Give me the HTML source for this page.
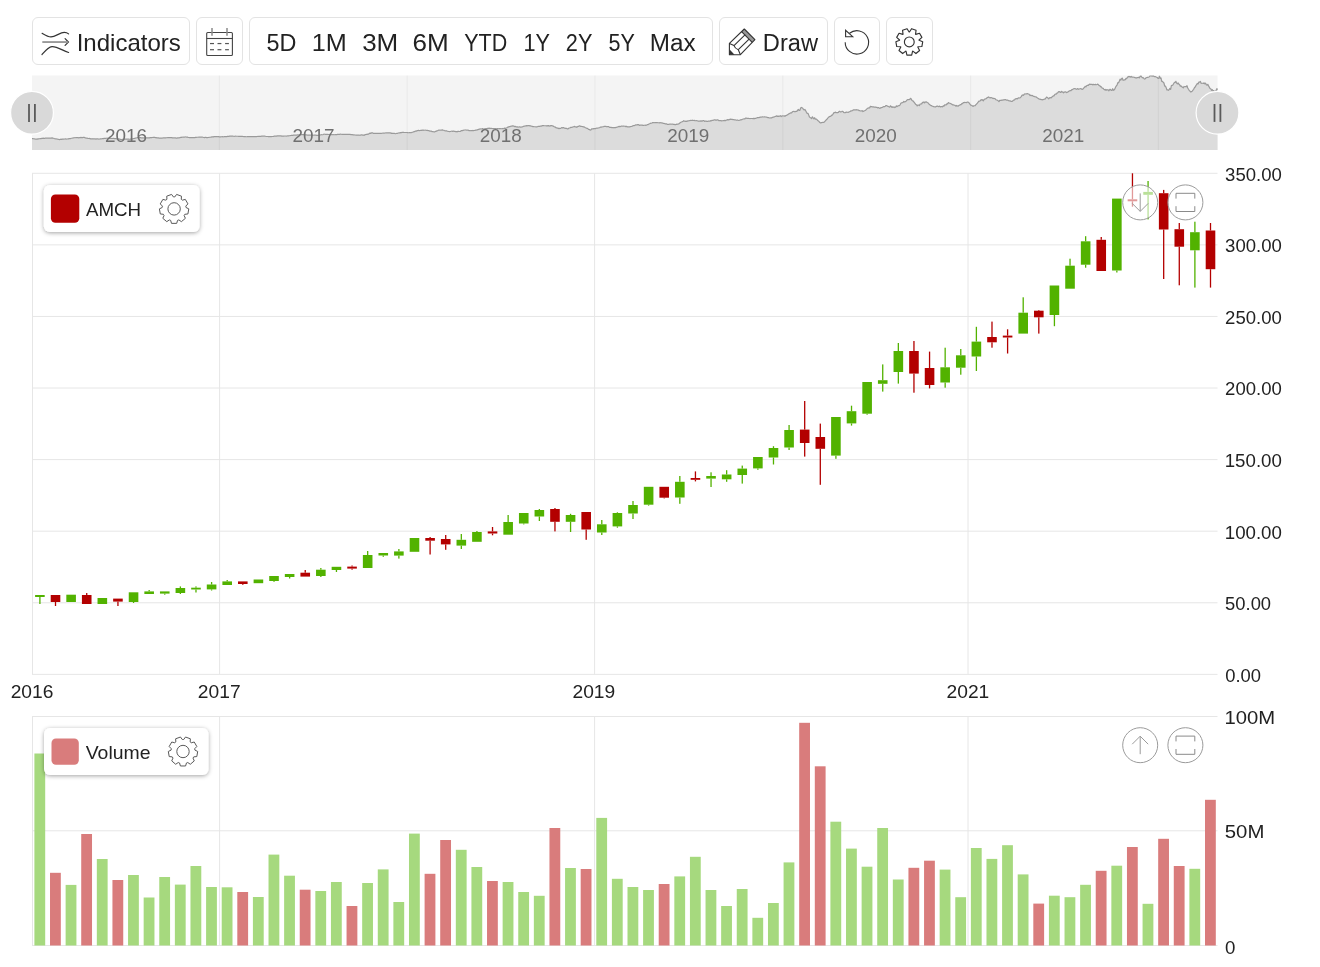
<!DOCTYPE html><html><head><meta charset="utf-8"><style>
html,body{margin:0;padding:0;background:#fff;}
body{width:1320px;height:967px;position:relative;overflow:hidden;font-family:"Liberation Sans", sans-serif;color:#222;}
.btn{position:absolute;top:17px;height:48px;border:1px solid #e3e3e3;border-radius:6px;background:#fff;box-sizing:border-box;}
.t{position:absolute;font-size:23px;line-height:1;white-space:nowrap;color:#222;}
svg{position:absolute;left:0;top:0;}
</style></head><body>
<div class="btn" style="left:32px;width:158px"></div>
<div class="btn" style="left:196px;width:47px"></div>
<div class="btn" style="left:249px;width:464px"></div>
<div class="btn" style="left:719px;width:109px"></div>
<div class="btn" style="left:834px;width:46px"></div>
<div class="btn" style="left:886px;width:47px"></div>
<svg width="1320" height="967" viewBox="0 0 1320 967" font-family='"Liberation Sans", sans-serif'>
<g style="will-change:transform"><text transform="translate(76.68 50.90) scale(1.0451 1.0000)" font-size="23" fill="#222">Indicators</text>
<text transform="translate(266.52 51.00) scale(1.0176 1.0000)" font-size="23" fill="#222">5D</text>
<text transform="translate(311.77 51.00) scale(1.0969 1.0000)" font-size="23" fill="#222">1M</text>
<text transform="translate(362.15 51.00) scale(1.1308 1.0000)" font-size="23" fill="#222">3M</text>
<text transform="translate(412.56 51.00) scale(1.1337 1.0000)" font-size="23" fill="#222">6M</text>
<text transform="translate(464.21 51.00) scale(0.9345 1.0000)" font-size="23" fill="#222">YTD</text>
<text transform="translate(523.58 51.00) scale(0.9419 1.0000)" font-size="23" fill="#222">1Y</text>
<text transform="translate(565.82 51.00) scale(0.9442 1.0000)" font-size="23" fill="#222">2Y</text>
<text transform="translate(608.52 51.00) scale(0.9370 1.0000)" font-size="23" fill="#222">5Y</text>
<text transform="translate(649.80 51.00) scale(1.0543 1.0000)" font-size="23" fill="#222">Max</text>
<text transform="translate(762.86 51.00) scale(1.0285 1.0000)" font-size="23" fill="#222">Draw</text></g>
<g fill="none" stroke="#333" stroke-width="1.2" stroke-linecap="round"><path d="M42.1 33.3 C45.5 35.3 48.3 37 51 36.9 C55.5 36.8 60 32.4 64.3 32.4 C66 32.4 67.5 33 68.6 33.9"/><path d="M42 54.5 C45 51 48.5 46.8 52 46.6 C57 46.3 62 50.3 68.6 52.5"/><path d="M65.1 38.6 L68.4 42.05 L65.1 45.4"/></g>
<line x1="42.3" y1="42.05" x2="67.8" y2="42.05" stroke="#999" stroke-width="1.9"/>
<g fill="none" stroke="#444" stroke-width="1.1"><rect x="206.7" y="32.5" width="25.7" height="23" rx="1"/><line x1="206.7" y1="38.5" x2="232.4" y2="38.5"/></g>
<g stroke="#8a8a8a" stroke-width="1.5"><line x1="212" y1="28.1" x2="212" y2="35.7"/><line x1="227" y1="28.1" x2="227" y2="35.7"/></g>
<g stroke="#555" stroke-width="1.2"><line x1="210" y1="43.55" x2="214" y2="43.55"/><line x1="217.5" y1="43.55" x2="221.4" y2="43.55"/><line x1="225.1" y1="43.55" x2="228.9" y2="43.55"/><line x1="210" y1="49.7" x2="214" y2="49.7"/><line x1="217.5" y1="49.7" x2="221.4" y2="49.7"/><line x1="225.1" y1="49.7" x2="228.9" y2="49.7"/></g>
<path d="M741.6 31.7 L744.3 29 L754.9 39.6 L752.2 42.3 Z" fill="#999"/>
<g fill="none" stroke="#333" stroke-width="1.1" stroke-linejoin="round"><path d="M729.4 54.7 L729.4 43.4 L744.3 29 L754.9 39.6 L740.4 54.7 Z"/><path d="M741.6 31.7 L752.2 42.3"/><path d="M729.4 43.4 L734 45.6 Q735 48.6 738.3 49.7 L740.4 54.7"/><path d="M734 45.6 L745.2 34.7 M738.3 49.7 L749.1 39.2"/></g>
<path d="M729.4 49.2 L729.4 54.7 L734.6 54.7 Z" fill="#333"/>
<g fill="none" stroke="#333" stroke-width="1.1"><path d="M845.2 42.2 A11.7 11.7 0 1 0 849.5 33.3"/><path d="M845.6 30.3 L845.6 36.7 L852.7 36.7 Z"/></g>
<g fill="none" stroke="#333" stroke-width="1.15" stroke-linejoin="round"><path d="M912.54 51.26 L911.69 55.09 L906.91 55.09 L906.06 51.26 L905.77 51.15 L902.65 53.54 L899.00 50.47 L900.81 46.98 L900.65 46.71 L896.73 46.54 L895.90 41.84 L899.52 40.33 L899.58 40.03 L896.69 37.37 L899.07 33.24 L902.82 34.42 L903.06 34.22 L902.55 30.33 L907.03 28.69 L909.14 32.00 L909.46 32.00 L911.57 28.69 L916.05 30.33 L915.54 34.22 L915.78 34.42 L919.53 33.24 L921.91 37.37 L919.02 40.03 L919.08 40.33 L922.70 41.84 L921.87 46.54 L917.95 46.71 L917.79 46.98 L919.60 50.47 L915.95 53.54 L912.83 51.15 Z"/><circle cx="909.30" cy="41.90" r="4.90"/></g>
<rect x="32.0" y="75.5" width="1185.5" height="74.5" fill="#f4f4f4"/>
<path d="M32.0 150.0 L32.00 138.57 L32.74 138.61 L33.49 138.77 L34.23 138.87 L34.97 139.02 L35.72 139.06 L36.46 139.05 L37.20 139.06 L37.95 138.90 L38.69 138.86 L39.43 138.74 L40.18 138.65 L40.92 138.70 L41.66 138.38 L42.41 138.30 L43.15 138.20 L43.89 138.30 L44.64 138.30 L45.38 138.22 L46.12 138.18 L46.86 138.11 L47.61 138.14 L48.35 138.07 L49.09 138.19 L49.84 138.08 L50.58 138.07 L51.32 138.17 L52.07 137.93 L52.81 138.15 L53.55 138.23 L54.30 138.56 L55.04 138.72 L55.78 138.83 L56.53 138.95 L57.27 139.03 L58.01 139.21 L58.76 139.43 L59.50 139.58 L60.24 139.45 L60.99 139.19 L61.73 139.31 L62.47 139.12 L63.22 139.03 L63.96 139.14 L64.70 139.02 L65.45 138.92 L66.19 139.13 L66.93 139.00 L67.68 138.97 L68.42 138.92 L69.16 138.70 L69.91 138.60 L70.65 138.56 L71.39 138.27 L72.13 138.15 L72.88 138.00 L73.62 137.83 L74.36 137.77 L75.11 137.68 L75.85 137.76 L76.59 137.62 L77.34 137.69 L78.08 137.66 L78.82 137.79 L79.57 137.71 L80.31 137.62 L81.05 137.39 L81.80 137.69 L82.54 137.59 L83.28 137.37 L84.03 137.34 L84.77 137.58 L85.51 137.98 L86.26 138.20 L87.00 138.05 L87.74 138.32 L88.49 138.51 L89.23 138.45 L89.97 138.58 L90.72 138.82 L91.46 138.83 L92.20 138.82 L92.95 138.72 L93.69 138.84 L94.43 138.89 L95.18 138.90 L95.92 139.04 L96.66 138.89 L97.40 138.93 L98.15 138.97 L98.89 139.12 L99.63 138.99 L100.38 138.83 L101.12 138.90 L101.86 138.72 L102.61 138.57 L103.35 138.62 L104.09 138.38 L104.84 138.35 L105.58 138.31 L106.32 138.23 L107.07 138.22 L107.81 138.27 L108.55 138.23 L109.30 138.34 L110.04 138.44 L110.78 138.36 L111.53 138.45 L112.27 138.52 L113.01 138.42 L113.76 138.40 L114.50 138.54 L115.24 138.69 L115.99 138.71 L116.73 138.82 L117.47 138.94 L118.22 138.93 L118.96 139.20 L119.70 139.15 L120.45 139.43 L121.19 139.49 L121.93 139.44 L122.68 139.33 L123.42 139.27 L124.16 139.23 L124.90 139.17 L125.65 139.15 L126.39 139.12 L127.13 139.21 L127.88 139.18 L128.62 139.17 L129.36 139.24 L130.11 139.18 L130.85 139.09 L131.59 138.78 L132.34 138.78 L133.08 138.69 L133.82 138.52 L134.57 138.31 L135.31 138.06 L136.05 138.01 L136.80 137.77 L137.54 137.51 L138.28 137.94 L139.03 137.80 L139.77 137.67 L140.51 137.65 L141.26 137.95 L142.00 137.97 L142.74 137.94 L143.49 137.95 L144.23 137.98 L144.97 137.87 L145.72 137.95 L146.46 137.95 L147.20 137.88 L147.95 137.83 L148.69 137.76 L149.43 137.81 L150.17 137.67 L150.92 137.56 L151.66 137.59 L152.40 137.49 L153.15 137.42 L153.89 137.45 L154.63 137.46 L155.38 137.60 L156.12 137.58 L156.86 137.94 L157.61 137.93 L158.35 137.94 L159.09 138.07 L159.84 137.98 L160.58 138.07 L161.32 138.03 L162.07 138.07 L162.81 137.97 L163.55 137.90 L164.30 137.89 L165.04 137.84 L165.78 137.78 L166.53 137.75 L167.27 137.72 L168.01 137.62 L168.76 137.60 L169.50 137.65 L170.24 137.56 L170.99 137.68 L171.73 137.62 L172.47 137.91 L173.22 137.90 L173.96 137.88 L174.70 137.93 L175.44 137.92 L176.19 138.09 L176.93 138.11 L177.67 137.89 L178.42 137.89 L179.16 137.79 L179.90 137.72 L180.65 137.42 L181.39 137.36 L182.13 137.20 L182.88 137.27 L183.62 137.10 L184.36 137.10 L185.11 137.00 L185.85 136.97 L186.59 137.18 L187.34 137.04 L188.08 137.35 L188.82 137.47 L189.57 137.61 L190.31 137.47 L191.05 137.60 L191.80 137.68 L192.54 137.67 L193.28 137.63 L194.03 137.50 L194.77 137.58 L195.51 137.38 L196.26 137.30 L197.00 137.23 L197.74 137.25 L198.49 137.22 L199.23 137.05 L199.97 137.05 L200.72 137.08 L201.46 137.03 L202.20 137.15 L202.94 137.28 L203.69 137.47 L204.43 137.60 L205.17 137.41 L205.92 137.47 L206.66 137.56 L207.40 137.53 L208.15 137.48 L208.89 137.46 L209.63 137.25 L210.38 137.24 L211.12 137.04 L211.86 136.89 L212.61 136.77 L213.35 136.83 L214.09 136.60 L214.84 136.70 L215.58 136.56 L216.32 136.68 L217.07 136.48 L217.81 136.71 L218.55 136.66 L219.30 136.79 L220.04 136.78 L220.78 136.81 L221.53 136.77 L222.27 136.70 L223.01 136.78 L223.76 136.76 L224.50 136.69 L225.24 136.67 L225.99 136.65 L226.73 136.55 L227.47 136.40 L228.21 136.45 L228.96 136.33 L229.70 136.19 L230.44 136.13 L231.19 136.11 L231.93 136.10 L232.67 136.16 L233.42 136.25 L234.16 136.29 L234.90 136.26 L235.65 136.21 L236.39 136.26 L237.13 136.27 L237.88 136.27 L238.62 136.30 L239.36 136.25 L240.11 136.32 L240.85 136.32 L241.59 136.46 L242.34 136.43 L243.08 136.51 L243.82 136.60 L244.57 136.57 L245.31 136.65 L246.05 136.76 L246.80 136.76 L247.54 136.71 L248.28 136.72 L249.03 136.66 L249.77 136.65 L250.51 136.52 L251.26 136.55 L252.00 136.53 L252.74 136.56 L253.48 136.58 L254.23 136.68 L254.97 136.59 L255.71 136.55 L256.46 136.56 L257.20 136.52 L257.94 136.39 L258.69 136.47 L259.43 136.34 L260.17 136.23 L260.92 136.30 L261.66 136.19 L262.40 136.12 L263.15 136.20 L263.89 136.19 L264.63 136.19 L265.38 136.27 L266.12 136.49 L266.86 136.49 L267.61 136.49 L268.35 136.56 L269.09 136.59 L269.84 136.66 L270.58 136.65 L271.32 136.53 L272.07 136.50 L272.81 136.48 L273.55 136.40 L274.30 136.13 L275.04 136.14 L275.78 136.09 L276.53 136.19 L277.27 135.94 L278.01 135.89 L278.76 135.84 L279.50 135.92 L280.24 135.95 L280.98 135.89 L281.73 136.14 L282.47 136.01 L283.21 136.04 L283.96 136.08 L284.70 136.00 L285.44 135.98 L286.19 136.11 L286.93 136.02 L287.67 135.90 L288.42 135.82 L289.16 135.76 L289.90 135.69 L290.65 135.48 L291.39 135.44 L292.13 135.45 L292.88 135.37 L293.62 135.17 L294.36 135.18 L295.11 135.12 L295.85 135.14 L296.59 135.19 L297.34 134.91 L298.08 135.00 L298.82 134.85 L299.57 134.75 L300.31 134.65 L301.05 134.67 L301.80 134.57 L302.54 134.56 L303.28 134.64 L304.03 134.69 L304.77 134.78 L305.51 134.88 L306.25 134.88 L307.00 135.00 L307.74 135.12 L308.48 135.17 L309.23 135.18 L309.97 135.17 L310.71 135.16 L311.46 135.19 L312.20 135.19 L312.94 135.13 L313.69 135.26 L314.43 135.15 L315.17 135.12 L315.92 135.20 L316.66 135.28 L317.40 135.26 L318.15 135.30 L318.89 135.27 L319.63 134.99 L320.38 134.96 L321.12 134.70 L321.86 134.74 L322.61 134.75 L323.35 134.50 L324.09 134.17 L324.84 134.26 L325.58 134.38 L326.32 134.38 L327.07 134.32 L327.81 134.36 L328.55 134.48 L329.30 134.47 L330.04 134.55 L330.78 134.63 L331.52 134.65 L332.27 134.65 L333.01 134.73 L333.75 134.70 L334.50 134.75 L335.24 134.65 L335.98 134.56 L336.73 134.55 L337.47 134.43 L338.21 134.40 L338.96 134.34 L339.70 134.34 L340.44 134.17 L341.19 134.25 L341.93 134.34 L342.67 134.34 L343.42 134.24 L344.16 134.37 L344.90 134.32 L345.65 134.32 L346.39 134.36 L347.13 134.41 L347.88 134.36 L348.62 134.36 L349.36 134.38 L350.11 134.47 L350.85 134.57 L351.59 134.61 L352.34 134.69 L353.08 134.78 L353.82 134.86 L354.57 134.94 L355.31 134.98 L356.05 135.10 L356.80 135.09 L357.54 135.06 L358.28 135.12 L359.02 135.08 L359.77 135.28 L360.51 135.09 L361.25 134.92 L362.00 134.93 L362.74 135.05 L363.48 135.10 L364.23 135.30 L364.97 134.63 L365.71 134.61 L366.46 134.29 L367.20 134.36 L367.94 134.02 L368.69 134.05 L369.43 133.40 L370.17 133.14 L370.92 133.33 L371.66 132.87 L372.40 132.83 L373.15 133.28 L373.89 133.35 L374.63 133.30 L375.38 133.30 L376.12 133.35 L376.86 133.31 L377.61 133.32 L378.35 133.32 L379.09 133.34 L379.84 133.33 L380.58 133.30 L381.32 133.34 L382.07 133.25 L382.81 133.21 L383.55 133.16 L384.29 133.07 L385.04 133.01 L385.78 132.94 L386.52 132.95 L387.27 132.90 L388.01 132.85 L388.75 132.86 L389.50 132.86 L390.24 132.85 L390.98 133.31 L391.73 133.22 L392.47 133.30 L393.21 133.38 L393.96 133.47 L394.70 133.47 L395.44 133.74 L396.19 133.51 L396.93 133.29 L397.67 133.31 L398.42 133.03 L399.16 132.91 L399.90 132.92 L400.65 132.70 L401.39 132.58 L402.13 132.39 L402.88 132.29 L403.62 132.39 L404.36 132.50 L405.11 132.48 L405.85 132.51 L406.59 132.51 L407.34 132.57 L408.08 132.69 L408.82 132.77 L409.56 132.64 L410.31 132.69 L411.05 132.73 L411.79 132.45 L412.54 132.27 L413.28 131.96 L414.02 131.68 L414.77 131.57 L415.51 131.00 L416.25 131.11 L417.00 130.70 L417.74 130.59 L418.48 130.29 L419.23 130.74 L419.97 130.53 L420.71 130.40 L421.46 130.34 L422.20 130.04 L422.94 130.34 L423.69 130.17 L424.43 130.23 L425.17 130.18 L425.92 130.23 L426.66 130.32 L427.40 130.33 L428.15 130.77 L428.89 130.59 L429.63 131.13 L430.38 131.11 L431.12 130.99 L431.86 131.55 L432.61 131.70 L433.35 131.70 L434.09 131.95 L434.84 131.84 L435.58 131.42 L436.32 131.12 L437.06 130.85 L437.81 130.56 L438.55 130.15 L439.29 130.09 L440.04 130.26 L440.78 130.16 L441.52 130.19 L442.27 129.87 L443.01 130.26 L443.75 130.25 L444.50 130.58 L445.24 130.79 L445.98 130.77 L446.73 130.86 L447.47 131.22 L448.21 131.48 L448.96 131.45 L449.70 131.68 L450.44 131.53 L451.19 131.26 L451.93 131.21 L452.67 131.34 L453.42 131.03 L454.16 131.39 L454.90 131.33 L455.65 131.57 L456.39 131.53 L457.13 131.82 L457.88 131.37 L458.62 131.31 L459.36 131.47 L460.11 131.32 L460.85 131.15 L461.59 130.57 L462.33 130.61 L463.08 130.36 L463.82 130.21 L464.56 129.99 L465.31 130.00 L466.05 129.95 L466.79 130.25 L467.54 130.15 L468.28 130.20 L469.02 130.60 L469.77 130.66 L470.51 130.72 L471.25 130.61 L472.00 130.67 L472.74 130.46 L473.48 130.53 L474.23 130.50 L474.97 130.36 L475.71 130.21 L476.46 130.05 L477.20 129.82 L477.94 129.58 L478.69 129.38 L479.43 129.20 L480.17 128.87 L480.92 129.00 L481.66 128.91 L482.40 128.63 L483.15 129.08 L483.89 128.94 L484.63 128.77 L485.38 128.68 L486.12 128.56 L486.86 128.52 L487.60 128.38 L488.35 128.31 L489.09 128.16 L489.83 128.39 L490.58 128.38 L491.32 128.37 L492.06 128.52 L492.81 128.59 L493.55 128.53 L494.29 128.69 L495.04 128.66 L495.78 128.72 L496.52 128.79 L497.27 128.71 L498.01 128.70 L498.75 128.74 L499.50 128.57 L500.24 128.61 L500.98 128.76 L501.73 128.66 L502.47 128.47 L503.21 128.74 L503.96 128.44 L504.70 128.19 L505.44 128.41 L506.19 127.97 L506.93 127.72 L507.67 127.11 L508.42 127.03 L509.16 126.62 L509.90 126.60 L510.65 126.23 L511.39 125.98 L512.13 126.15 L512.88 125.71 L513.62 125.96 L514.36 126.60 L515.10 126.29 L515.85 126.83 L516.59 126.81 L517.33 126.86 L518.08 127.09 L518.82 127.00 L519.56 126.86 L520.31 127.12 L521.05 127.07 L521.79 126.95 L522.54 126.79 L523.28 126.47 L524.02 126.17 L524.77 126.15 L525.51 126.02 L526.25 125.66 L527.00 125.80 L527.74 125.71 L528.48 125.61 L529.23 125.63 L529.97 125.82 L530.71 125.87 L531.46 126.28 L532.20 126.38 L532.94 126.65 L533.69 126.62 L534.43 126.75 L535.17 126.73 L535.92 126.89 L536.66 126.82 L537.40 126.72 L538.15 126.43 L538.89 126.26 L539.63 126.32 L540.37 126.05 L541.12 126.10 L541.86 125.88 L542.60 125.67 L543.35 125.50 L544.09 125.75 L544.83 125.76 L545.58 125.76 L546.32 125.97 L547.06 125.67 L547.81 125.81 L548.55 125.57 L549.29 125.89 L550.04 126.06 L550.78 125.62 L551.52 125.56 L552.27 125.95 L553.01 125.96 L553.75 126.53 L554.50 126.92 L555.24 127.00 L555.98 127.76 L556.73 127.89 L557.47 128.06 L558.21 128.19 L558.96 128.61 L559.70 128.34 L560.44 128.39 L561.19 128.02 L561.93 127.56 L562.67 127.87 L563.42 127.51 L564.16 128.17 L564.90 128.21 L565.64 128.34 L566.39 128.35 L567.13 128.89 L567.87 128.93 L568.62 128.26 L569.36 128.01 L570.10 127.82 L570.85 127.26 L571.59 127.45 L572.33 127.23 L573.08 126.89 L573.82 126.77 L574.56 126.40 L575.31 126.91 L576.05 126.79 L576.79 127.34 L577.54 126.64 L578.28 126.44 L579.02 126.11 L579.77 125.80 L580.51 126.36 L581.25 126.43 L582.00 126.50 L582.74 126.59 L583.48 126.81 L584.23 126.88 L584.97 127.42 L585.71 127.81 L586.46 128.26 L587.20 128.37 L587.94 128.87 L588.69 129.43 L589.43 129.61 L590.17 130.03 L590.92 129.95 L591.66 128.94 L592.40 128.86 L593.14 128.88 L593.89 128.61 L594.63 128.59 L595.37 128.74 L596.12 128.17 L596.86 128.23 L597.60 128.03 L598.35 128.01 L599.09 127.77 L599.83 127.60 L600.58 127.07 L601.32 127.06 L602.06 126.97 L602.81 126.74 L603.55 126.64 L604.29 126.42 L605.04 126.43 L605.78 126.31 L606.52 126.74 L607.27 126.64 L608.01 126.63 L608.75 126.67 L609.50 127.37 L610.24 127.42 L610.98 127.26 L611.73 127.61 L612.47 127.54 L613.21 127.49 L613.96 127.81 L614.70 127.54 L615.44 127.64 L616.19 127.33 L616.93 127.20 L617.67 126.99 L618.41 126.67 L619.16 126.32 L619.90 126.58 L620.64 126.34 L621.39 126.03 L622.13 126.27 L622.87 126.07 L623.62 126.09 L624.36 126.23 L625.10 126.20 L625.85 126.64 L626.59 126.35 L627.33 126.83 L628.08 126.78 L628.82 126.85 L629.56 126.91 L630.31 126.58 L631.05 126.49 L631.79 126.35 L632.54 125.97 L633.28 125.58 L634.02 125.62 L634.77 125.34 L635.51 124.97 L636.25 124.91 L637.00 125.03 L637.74 124.48 L638.48 124.61 L639.23 125.39 L639.97 125.15 L640.71 125.10 L641.46 125.03 L642.20 125.11 L642.94 125.30 L643.68 125.46 L644.43 125.28 L645.17 125.15 L645.91 125.32 L646.66 125.02 L647.40 124.55 L648.14 124.60 L648.89 124.02 L649.63 123.76 L650.37 123.31 L651.12 123.22 L651.86 122.97 L652.60 122.67 L653.35 122.62 L654.09 122.74 L654.83 122.63 L655.58 122.51 L656.32 122.53 L657.06 122.48 L657.81 122.76 L658.55 122.74 L659.29 122.97 L660.04 122.51 L660.78 122.78 L661.52 122.82 L662.27 122.93 L663.01 123.31 L663.75 123.29 L664.50 123.51 L665.24 123.88 L665.98 123.82 L666.73 123.90 L667.47 124.40 L668.21 124.24 L668.96 124.28 L669.70 124.22 L670.44 124.20 L671.18 124.09 L671.93 124.23 L672.67 124.03 L673.41 124.44 L674.16 124.23 L674.90 124.70 L675.64 124.60 L676.39 124.21 L677.13 124.29 L677.87 124.06 L678.62 123.93 L679.36 123.45 L680.10 122.81 L680.85 122.23 L681.59 121.98 L682.33 121.57 L683.08 121.32 L683.82 120.70 L684.56 121.24 L685.31 121.37 L686.05 121.09 L686.79 121.39 L687.54 120.94 L688.28 120.86 L689.02 120.72 L689.77 120.53 L690.51 120.44 L691.25 120.48 L692.00 120.22 L692.74 120.28 L693.48 120.48 L694.23 120.42 L694.97 120.61 L695.71 120.72 L696.45 120.71 L697.20 120.76 L697.94 121.04 L698.68 121.04 L699.43 121.22 L700.17 120.88 L700.91 121.10 L701.66 120.91 L702.40 121.04 L703.14 120.64 L703.89 120.56 L704.63 121.32 L705.37 121.15 L706.12 121.13 L706.86 121.32 L707.60 121.51 L708.35 121.04 L709.09 121.15 L709.83 121.21 L710.58 120.70 L711.32 120.88 L712.06 120.31 L712.81 120.38 L713.55 120.10 L714.29 119.78 L715.04 119.82 L715.78 120.08 L716.52 120.17 L717.27 119.83 L718.01 119.95 L718.75 120.70 L719.50 120.54 L720.24 120.61 L720.98 120.61 L721.72 120.95 L722.47 120.77 L723.21 120.66 L723.95 120.58 L724.70 120.40 L725.44 120.61 L726.18 120.17 L726.93 119.98 L727.67 119.60 L728.41 119.82 L729.16 119.59 L729.90 119.40 L730.64 119.20 L731.39 119.41 L732.13 119.30 L732.87 119.58 L733.62 119.53 L734.36 119.78 L735.10 119.78 L735.85 120.04 L736.59 120.30 L737.33 119.97 L738.08 120.22 L738.82 120.48 L739.56 120.22 L740.31 119.86 L741.05 119.96 L741.79 119.58 L742.54 119.24 L743.28 119.02 L744.02 118.93 L744.77 119.00 L745.51 118.21 L746.25 118.20 L747.00 118.29 L747.74 118.38 L748.48 118.33 L749.22 118.49 L749.97 118.55 L750.71 118.52 L751.45 118.51 L752.20 118.52 L752.94 118.60 L753.68 118.39 L754.43 118.63 L755.17 118.26 L755.91 118.29 L756.66 117.96 L757.40 117.67 L758.14 117.64 L758.89 117.59 L759.63 117.33 L760.37 117.15 L761.12 117.20 L761.86 116.95 L762.60 116.89 L763.35 117.00 L764.09 116.96 L764.83 116.92 L765.58 116.98 L766.32 117.10 L767.06 117.28 L767.81 117.57 L768.55 117.66 L769.29 117.83 L770.04 117.97 L770.78 117.85 L771.52 117.90 L772.27 117.45 L773.01 117.19 L773.75 117.14 L774.49 116.77 L775.24 116.47 L775.98 116.38 L776.72 115.79 L777.47 116.44 L778.21 116.10 L778.95 116.43 L779.70 116.02 L780.44 115.73 L781.18 116.63 L781.93 115.97 L782.67 115.83 L783.41 115.97 L784.16 115.73 L784.90 116.33 L785.64 115.56 L786.39 115.35 L787.13 114.98 L787.87 114.68 L788.62 113.95 L789.36 113.77 L790.10 113.16 L790.85 112.88 L791.59 112.84 L792.33 111.88 L793.08 111.50 L793.82 111.37 L794.56 111.75 L795.31 111.56 L796.05 111.41 L796.79 111.42 L797.54 110.35 L798.28 109.46 L799.02 110.45 L799.76 110.46 L800.51 108.43 L801.25 107.43 L801.99 107.83 L802.74 108.29 L803.48 109.43 L804.22 109.88 L804.97 109.46 L805.71 110.79 L806.45 112.36 L807.20 113.50 L807.94 113.26 L808.68 114.89 L809.43 116.93 L810.17 117.63 L810.91 117.83 L811.66 118.64 L812.40 116.84 L813.14 117.93 L813.89 118.80 L814.63 117.75 L815.37 119.12 L816.12 118.97 L816.86 119.40 L817.60 120.48 L818.35 120.85 L819.09 121.64 L819.83 122.51 L820.58 122.93 L821.32 122.61 L822.06 122.54 L822.81 122.33 L823.55 122.48 L824.29 122.04 L825.04 121.16 L825.78 120.54 L826.52 119.36 L827.26 119.03 L828.01 117.81 L828.75 117.10 L829.49 116.63 L830.24 116.43 L830.98 116.00 L831.72 115.12 L832.47 115.03 L833.21 113.80 L833.95 112.70 L834.70 112.65 L835.44 112.10 L836.18 112.70 L836.93 112.49 L837.67 112.54 L838.41 112.41 L839.16 111.37 L839.90 111.33 L840.64 111.99 L841.39 111.69 L842.13 111.36 L842.87 111.40 L843.62 112.38 L844.36 112.77 L845.10 112.59 L845.85 112.33 L846.59 112.08 L847.33 112.26 L848.08 112.38 L848.82 112.01 L849.56 111.69 L850.31 111.41 L851.05 110.75 L851.79 110.91 L852.53 110.55 L853.28 109.93 L854.02 109.87 L854.76 109.80 L855.51 109.83 L856.25 109.78 L856.99 109.70 L857.74 110.02 L858.48 110.05 L859.22 110.77 L859.97 110.70 L860.71 110.98 L861.45 110.84 L862.20 110.64 L862.94 111.52 L863.68 111.16 L864.43 110.75 L865.17 110.51 L865.91 109.94 L866.66 109.13 L867.40 108.27 L868.14 108.20 L868.89 107.81 L869.63 107.89 L870.37 106.35 L871.12 106.56 L871.86 106.64 L872.60 107.01 L873.35 106.73 L874.09 107.09 L874.83 107.06 L875.58 107.11 L876.32 107.38 L877.06 107.47 L877.80 107.92 L878.55 107.50 L879.29 108.18 L880.03 108.35 L880.78 107.69 L881.52 107.58 L882.26 107.40 L883.01 106.99 L883.75 106.58 L884.49 106.70 L885.24 106.19 L885.98 105.55 L886.72 105.63 L887.47 106.16 L888.21 106.41 L888.95 106.79 L889.70 107.10 L890.44 105.86 L891.18 106.39 L891.93 107.47 L892.67 106.78 L893.41 107.32 L894.16 106.96 L894.90 107.64 L895.64 107.08 L896.39 105.82 L897.13 106.54 L897.87 106.08 L898.62 105.69 L899.36 105.57 L900.10 104.84 L900.85 103.21 L901.59 102.79 L902.33 102.64 L903.08 102.38 L903.82 101.47 L904.56 101.88 L905.30 101.61 L906.05 101.20 L906.79 100.31 L907.53 99.63 L908.28 99.66 L909.02 99.68 L909.76 99.26 L910.51 98.29 L911.25 98.92 L911.99 100.44 L912.74 100.77 L913.48 101.54 L914.22 102.34 L914.97 103.30 L915.71 104.39 L916.45 104.70 L917.20 105.88 L917.94 105.00 L918.68 105.03 L919.43 105.56 L920.17 104.02 L920.91 103.96 L921.66 103.88 L922.40 102.40 L923.14 102.54 L923.89 101.91 L924.63 102.83 L925.37 102.03 L926.12 101.86 L926.86 102.24 L927.60 102.76 L928.35 102.96 L929.09 104.34 L929.83 104.77 L930.57 105.33 L931.32 105.55 L932.06 106.08 L932.80 106.26 L933.55 106.67 L934.29 106.73 L935.03 106.95 L935.78 106.84 L936.52 106.35 L937.26 105.98 L938.01 106.34 L938.75 106.61 L939.49 106.03 L940.24 106.94 L940.98 106.60 L941.72 106.52 L942.47 106.77 L943.21 105.91 L943.95 106.18 L944.70 104.93 L945.44 104.78 L946.18 104.99 L946.93 103.70 L947.67 103.83 L948.41 102.57 L949.16 103.05 L949.90 103.24 L950.64 103.49 L951.39 104.13 L952.13 104.32 L952.87 105.02 L953.62 104.90 L954.36 105.23 L955.10 105.35 L955.84 106.23 L956.59 105.47 L957.33 105.91 L958.07 106.20 L958.82 105.49 L959.56 105.14 L960.30 104.66 L961.05 104.73 L961.79 103.66 L962.53 103.63 L963.28 102.58 L964.02 102.75 L964.76 102.23 L965.51 102.48 L966.25 102.66 L966.99 102.14 L967.74 102.19 L968.48 102.24 L969.22 103.05 L969.97 104.17 L970.71 105.15 L971.45 105.27 L972.20 105.81 L972.94 106.40 L973.68 105.84 L974.43 105.73 L975.17 105.63 L975.91 104.66 L976.66 104.00 L977.40 103.06 L978.14 102.05 L978.89 101.17 L979.63 101.06 L980.37 100.80 L981.12 99.60 L981.86 100.14 L982.60 99.73 L983.34 100.86 L984.09 99.56 L984.83 98.98 L985.57 98.97 L986.32 98.42 L987.06 97.79 L987.80 97.38 L988.55 96.92 L989.29 97.55 L990.03 97.87 L990.78 97.59 L991.52 97.68 L992.26 98.05 L993.01 98.59 L993.75 98.28 L994.49 98.46 L995.24 98.89 L995.98 99.79 L996.72 99.96 L997.47 100.20 L998.21 100.89 L998.95 101.56 L999.70 100.37 L1000.44 100.40 L1001.18 100.35 L1001.93 100.00 L1002.67 100.17 L1003.41 99.91 L1004.16 99.81 L1004.90 99.70 L1005.64 99.65 L1006.39 100.26 L1007.13 99.93 L1007.87 100.24 L1008.61 100.59 L1009.36 100.83 L1010.10 100.75 L1010.84 101.38 L1011.59 101.42 L1012.33 101.29 L1013.07 100.60 L1013.82 100.06 L1014.56 99.90 L1015.30 98.86 L1016.05 98.85 L1016.79 98.50 L1017.53 98.80 L1018.28 97.75 L1019.02 98.01 L1019.76 98.01 L1020.51 97.32 L1021.25 96.63 L1021.99 95.35 L1022.74 94.91 L1023.48 95.36 L1024.22 94.23 L1024.97 93.88 L1025.71 94.01 L1026.45 93.96 L1027.20 93.54 L1027.94 93.90 L1028.68 93.98 L1029.43 94.61 L1030.17 95.61 L1030.91 95.10 L1031.66 95.74 L1032.40 95.46 L1033.14 96.18 L1033.88 96.32 L1034.63 96.61 L1035.37 96.79 L1036.11 96.84 L1036.86 97.48 L1037.60 98.07 L1038.34 98.51 L1039.09 99.13 L1039.83 99.11 L1040.57 99.32 L1041.32 99.61 L1042.06 99.49 L1042.80 99.83 L1043.55 99.46 L1044.29 99.18 L1045.03 99.04 L1045.78 98.10 L1046.52 97.02 L1047.26 97.55 L1048.01 98.08 L1048.75 98.82 L1049.49 97.83 L1050.24 97.53 L1050.98 97.97 L1051.72 97.30 L1052.47 96.43 L1053.21 95.90 L1053.95 95.83 L1054.70 94.61 L1055.44 94.05 L1056.18 94.26 L1056.93 93.17 L1057.67 92.89 L1058.41 91.88 L1059.16 91.55 L1059.90 92.10 L1060.64 92.50 L1061.38 91.28 L1062.13 92.20 L1062.87 91.94 L1063.61 92.76 L1064.36 92.14 L1065.10 91.90 L1065.84 91.96 L1066.59 92.62 L1067.33 92.22 L1068.07 91.93 L1068.82 91.21 L1069.56 90.80 L1070.30 90.66 L1071.05 90.66 L1071.79 89.68 L1072.53 89.61 L1073.28 88.91 L1074.02 88.75 L1074.76 88.54 L1075.51 88.77 L1076.25 89.28 L1076.99 89.12 L1077.74 88.61 L1078.48 89.27 L1079.22 88.97 L1079.97 88.74 L1080.71 88.70 L1081.45 88.91 L1082.20 89.43 L1082.94 89.04 L1083.68 88.08 L1084.43 87.52 L1085.17 86.37 L1085.91 86.85 L1086.65 85.74 L1087.40 85.33 L1088.14 85.52 L1088.88 84.76 L1089.63 84.09 L1090.37 84.36 L1091.11 84.40 L1091.86 84.35 L1092.60 84.85 L1093.34 84.37 L1094.09 84.72 L1094.83 84.70 L1095.57 84.36 L1096.32 84.71 L1097.06 84.44 L1097.80 84.03 L1098.55 84.93 L1099.29 85.57 L1100.03 85.87 L1100.78 86.80 L1101.52 86.92 L1102.26 88.25 L1103.01 88.23 L1103.75 89.16 L1104.49 89.83 L1105.24 89.47 L1105.98 90.34 L1106.72 89.56 L1107.47 89.95 L1108.21 89.75 L1108.95 90.84 L1109.70 89.42 L1110.44 89.30 L1111.18 90.42 L1111.92 90.47 L1112.67 88.74 L1113.41 90.34 L1114.15 89.94 L1114.90 88.90 L1115.64 86.98 L1116.38 85.88 L1117.13 84.80 L1117.87 82.57 L1118.61 82.79 L1119.36 81.06 L1120.10 79.20 L1120.84 80.01 L1121.59 78.62 L1122.33 78.09 L1123.07 80.28 L1123.82 80.12 L1124.56 79.81 L1125.30 79.62 L1126.05 78.37 L1126.79 78.55 L1127.53 77.28 L1128.28 76.45 L1129.02 76.86 L1129.76 76.42 L1130.51 77.10 L1131.25 76.45 L1131.99 77.10 L1132.74 77.14 L1133.48 77.22 L1134.22 77.26 L1134.97 77.72 L1135.71 77.79 L1136.45 78.04 L1137.20 77.58 L1137.94 77.73 L1138.68 77.26 L1139.42 77.82 L1140.17 76.33 L1140.91 76.00 L1141.65 76.91 L1142.40 77.78 L1143.14 77.63 L1143.88 78.46 L1144.63 79.10 L1145.37 78.64 L1146.11 77.75 L1146.86 77.51 L1147.60 77.32 L1148.34 77.26 L1149.09 76.99 L1149.83 76.00 L1150.57 76.00 L1151.32 76.00 L1152.06 76.17 L1152.80 76.16 L1153.55 76.00 L1154.29 76.60 L1155.03 76.48 L1155.78 76.83 L1156.52 77.26 L1157.26 77.47 L1158.01 78.49 L1158.75 78.34 L1159.49 76.20 L1160.24 78.33 L1160.98 77.94 L1161.72 81.31 L1162.47 81.42 L1163.21 82.28 L1163.95 83.01 L1164.69 86.16 L1165.44 86.11 L1166.18 87.65 L1166.92 89.95 L1167.67 89.82 L1168.41 90.34 L1169.15 89.64 L1169.90 88.39 L1170.64 89.28 L1171.38 85.60 L1172.13 85.45 L1172.87 85.04 L1173.61 83.77 L1174.36 82.42 L1175.10 82.49 L1175.84 81.35 L1176.59 83.14 L1177.33 83.87 L1178.07 82.86 L1178.82 84.17 L1179.56 84.49 L1180.30 86.16 L1181.05 85.86 L1181.79 86.81 L1182.53 87.23 L1183.28 87.88 L1184.02 86.43 L1184.76 86.74 L1185.51 86.60 L1186.25 86.79 L1186.99 85.69 L1187.74 87.97 L1188.48 89.28 L1189.22 90.34 L1189.96 91.16 L1190.71 91.99 L1191.45 91.66 L1192.19 91.23 L1192.94 90.15 L1193.68 89.36 L1194.42 87.72 L1195.17 86.99 L1195.91 85.60 L1196.65 84.49 L1197.40 83.40 L1198.14 83.90 L1198.88 82.10 L1199.63 82.17 L1200.37 81.41 L1201.11 83.32 L1201.86 83.27 L1202.60 83.23 L1203.34 83.43 L1204.09 82.82 L1204.83 83.86 L1205.57 83.20 L1206.32 84.84 L1207.06 85.23 L1207.80 84.29 L1208.55 85.94 L1209.29 87.09 L1210.03 88.45 L1210.78 88.78 L1211.52 90.34 L1212.26 89.59 L1213.01 91.01 L1213.75 90.65 L1214.49 91.43 L1215.24 91.99 L1215.98 90.91 L1216.72 88.80 L1217.46 89.10 L1217.50 88.70 L1217.5 150.0 Z" fill="#dcdcdc"/>
<line x1="219.4" y1="75.5" x2="219.4" y2="150.0" stroke="rgba(0,0,0,0.04)" stroke-width="1.2"/>
<line x1="407.2" y1="75.5" x2="407.2" y2="150.0" stroke="rgba(0,0,0,0.04)" stroke-width="1.2"/>
<line x1="595.0" y1="75.5" x2="595.0" y2="150.0" stroke="rgba(0,0,0,0.04)" stroke-width="1.2"/>
<line x1="782.8" y1="75.5" x2="782.8" y2="150.0" stroke="rgba(0,0,0,0.04)" stroke-width="1.2"/>
<line x1="970.6" y1="75.5" x2="970.6" y2="150.0" stroke="rgba(0,0,0,0.04)" stroke-width="1.2"/>
<line x1="1158.4" y1="75.5" x2="1158.4" y2="150.0" stroke="rgba(0,0,0,0.04)" stroke-width="1.2"/>
<path d="M32.00 138.57 L32.74 138.61 L33.49 138.77 L34.23 138.87 L34.97 139.02 L35.72 139.06 L36.46 139.05 L37.20 139.06 L37.95 138.90 L38.69 138.86 L39.43 138.74 L40.18 138.65 L40.92 138.70 L41.66 138.38 L42.41 138.30 L43.15 138.20 L43.89 138.30 L44.64 138.30 L45.38 138.22 L46.12 138.18 L46.86 138.11 L47.61 138.14 L48.35 138.07 L49.09 138.19 L49.84 138.08 L50.58 138.07 L51.32 138.17 L52.07 137.93 L52.81 138.15 L53.55 138.23 L54.30 138.56 L55.04 138.72 L55.78 138.83 L56.53 138.95 L57.27 139.03 L58.01 139.21 L58.76 139.43 L59.50 139.58 L60.24 139.45 L60.99 139.19 L61.73 139.31 L62.47 139.12 L63.22 139.03 L63.96 139.14 L64.70 139.02 L65.45 138.92 L66.19 139.13 L66.93 139.00 L67.68 138.97 L68.42 138.92 L69.16 138.70 L69.91 138.60 L70.65 138.56 L71.39 138.27 L72.13 138.15 L72.88 138.00 L73.62 137.83 L74.36 137.77 L75.11 137.68 L75.85 137.76 L76.59 137.62 L77.34 137.69 L78.08 137.66 L78.82 137.79 L79.57 137.71 L80.31 137.62 L81.05 137.39 L81.80 137.69 L82.54 137.59 L83.28 137.37 L84.03 137.34 L84.77 137.58 L85.51 137.98 L86.26 138.20 L87.00 138.05 L87.74 138.32 L88.49 138.51 L89.23 138.45 L89.97 138.58 L90.72 138.82 L91.46 138.83 L92.20 138.82 L92.95 138.72 L93.69 138.84 L94.43 138.89 L95.18 138.90 L95.92 139.04 L96.66 138.89 L97.40 138.93 L98.15 138.97 L98.89 139.12 L99.63 138.99 L100.38 138.83 L101.12 138.90 L101.86 138.72 L102.61 138.57 L103.35 138.62 L104.09 138.38 L104.84 138.35 L105.58 138.31 L106.32 138.23 L107.07 138.22 L107.81 138.27 L108.55 138.23 L109.30 138.34 L110.04 138.44 L110.78 138.36 L111.53 138.45 L112.27 138.52 L113.01 138.42 L113.76 138.40 L114.50 138.54 L115.24 138.69 L115.99 138.71 L116.73 138.82 L117.47 138.94 L118.22 138.93 L118.96 139.20 L119.70 139.15 L120.45 139.43 L121.19 139.49 L121.93 139.44 L122.68 139.33 L123.42 139.27 L124.16 139.23 L124.90 139.17 L125.65 139.15 L126.39 139.12 L127.13 139.21 L127.88 139.18 L128.62 139.17 L129.36 139.24 L130.11 139.18 L130.85 139.09 L131.59 138.78 L132.34 138.78 L133.08 138.69 L133.82 138.52 L134.57 138.31 L135.31 138.06 L136.05 138.01 L136.80 137.77 L137.54 137.51 L138.28 137.94 L139.03 137.80 L139.77 137.67 L140.51 137.65 L141.26 137.95 L142.00 137.97 L142.74 137.94 L143.49 137.95 L144.23 137.98 L144.97 137.87 L145.72 137.95 L146.46 137.95 L147.20 137.88 L147.95 137.83 L148.69 137.76 L149.43 137.81 L150.17 137.67 L150.92 137.56 L151.66 137.59 L152.40 137.49 L153.15 137.42 L153.89 137.45 L154.63 137.46 L155.38 137.60 L156.12 137.58 L156.86 137.94 L157.61 137.93 L158.35 137.94 L159.09 138.07 L159.84 137.98 L160.58 138.07 L161.32 138.03 L162.07 138.07 L162.81 137.97 L163.55 137.90 L164.30 137.89 L165.04 137.84 L165.78 137.78 L166.53 137.75 L167.27 137.72 L168.01 137.62 L168.76 137.60 L169.50 137.65 L170.24 137.56 L170.99 137.68 L171.73 137.62 L172.47 137.91 L173.22 137.90 L173.96 137.88 L174.70 137.93 L175.44 137.92 L176.19 138.09 L176.93 138.11 L177.67 137.89 L178.42 137.89 L179.16 137.79 L179.90 137.72 L180.65 137.42 L181.39 137.36 L182.13 137.20 L182.88 137.27 L183.62 137.10 L184.36 137.10 L185.11 137.00 L185.85 136.97 L186.59 137.18 L187.34 137.04 L188.08 137.35 L188.82 137.47 L189.57 137.61 L190.31 137.47 L191.05 137.60 L191.80 137.68 L192.54 137.67 L193.28 137.63 L194.03 137.50 L194.77 137.58 L195.51 137.38 L196.26 137.30 L197.00 137.23 L197.74 137.25 L198.49 137.22 L199.23 137.05 L199.97 137.05 L200.72 137.08 L201.46 137.03 L202.20 137.15 L202.94 137.28 L203.69 137.47 L204.43 137.60 L205.17 137.41 L205.92 137.47 L206.66 137.56 L207.40 137.53 L208.15 137.48 L208.89 137.46 L209.63 137.25 L210.38 137.24 L211.12 137.04 L211.86 136.89 L212.61 136.77 L213.35 136.83 L214.09 136.60 L214.84 136.70 L215.58 136.56 L216.32 136.68 L217.07 136.48 L217.81 136.71 L218.55 136.66 L219.30 136.79 L220.04 136.78 L220.78 136.81 L221.53 136.77 L222.27 136.70 L223.01 136.78 L223.76 136.76 L224.50 136.69 L225.24 136.67 L225.99 136.65 L226.73 136.55 L227.47 136.40 L228.21 136.45 L228.96 136.33 L229.70 136.19 L230.44 136.13 L231.19 136.11 L231.93 136.10 L232.67 136.16 L233.42 136.25 L234.16 136.29 L234.90 136.26 L235.65 136.21 L236.39 136.26 L237.13 136.27 L237.88 136.27 L238.62 136.30 L239.36 136.25 L240.11 136.32 L240.85 136.32 L241.59 136.46 L242.34 136.43 L243.08 136.51 L243.82 136.60 L244.57 136.57 L245.31 136.65 L246.05 136.76 L246.80 136.76 L247.54 136.71 L248.28 136.72 L249.03 136.66 L249.77 136.65 L250.51 136.52 L251.26 136.55 L252.00 136.53 L252.74 136.56 L253.48 136.58 L254.23 136.68 L254.97 136.59 L255.71 136.55 L256.46 136.56 L257.20 136.52 L257.94 136.39 L258.69 136.47 L259.43 136.34 L260.17 136.23 L260.92 136.30 L261.66 136.19 L262.40 136.12 L263.15 136.20 L263.89 136.19 L264.63 136.19 L265.38 136.27 L266.12 136.49 L266.86 136.49 L267.61 136.49 L268.35 136.56 L269.09 136.59 L269.84 136.66 L270.58 136.65 L271.32 136.53 L272.07 136.50 L272.81 136.48 L273.55 136.40 L274.30 136.13 L275.04 136.14 L275.78 136.09 L276.53 136.19 L277.27 135.94 L278.01 135.89 L278.76 135.84 L279.50 135.92 L280.24 135.95 L280.98 135.89 L281.73 136.14 L282.47 136.01 L283.21 136.04 L283.96 136.08 L284.70 136.00 L285.44 135.98 L286.19 136.11 L286.93 136.02 L287.67 135.90 L288.42 135.82 L289.16 135.76 L289.90 135.69 L290.65 135.48 L291.39 135.44 L292.13 135.45 L292.88 135.37 L293.62 135.17 L294.36 135.18 L295.11 135.12 L295.85 135.14 L296.59 135.19 L297.34 134.91 L298.08 135.00 L298.82 134.85 L299.57 134.75 L300.31 134.65 L301.05 134.67 L301.80 134.57 L302.54 134.56 L303.28 134.64 L304.03 134.69 L304.77 134.78 L305.51 134.88 L306.25 134.88 L307.00 135.00 L307.74 135.12 L308.48 135.17 L309.23 135.18 L309.97 135.17 L310.71 135.16 L311.46 135.19 L312.20 135.19 L312.94 135.13 L313.69 135.26 L314.43 135.15 L315.17 135.12 L315.92 135.20 L316.66 135.28 L317.40 135.26 L318.15 135.30 L318.89 135.27 L319.63 134.99 L320.38 134.96 L321.12 134.70 L321.86 134.74 L322.61 134.75 L323.35 134.50 L324.09 134.17 L324.84 134.26 L325.58 134.38 L326.32 134.38 L327.07 134.32 L327.81 134.36 L328.55 134.48 L329.30 134.47 L330.04 134.55 L330.78 134.63 L331.52 134.65 L332.27 134.65 L333.01 134.73 L333.75 134.70 L334.50 134.75 L335.24 134.65 L335.98 134.56 L336.73 134.55 L337.47 134.43 L338.21 134.40 L338.96 134.34 L339.70 134.34 L340.44 134.17 L341.19 134.25 L341.93 134.34 L342.67 134.34 L343.42 134.24 L344.16 134.37 L344.90 134.32 L345.65 134.32 L346.39 134.36 L347.13 134.41 L347.88 134.36 L348.62 134.36 L349.36 134.38 L350.11 134.47 L350.85 134.57 L351.59 134.61 L352.34 134.69 L353.08 134.78 L353.82 134.86 L354.57 134.94 L355.31 134.98 L356.05 135.10 L356.80 135.09 L357.54 135.06 L358.28 135.12 L359.02 135.08 L359.77 135.28 L360.51 135.09 L361.25 134.92 L362.00 134.93 L362.74 135.05 L363.48 135.10 L364.23 135.30 L364.97 134.63 L365.71 134.61 L366.46 134.29 L367.20 134.36 L367.94 134.02 L368.69 134.05 L369.43 133.40 L370.17 133.14 L370.92 133.33 L371.66 132.87 L372.40 132.83 L373.15 133.28 L373.89 133.35 L374.63 133.30 L375.38 133.30 L376.12 133.35 L376.86 133.31 L377.61 133.32 L378.35 133.32 L379.09 133.34 L379.84 133.33 L380.58 133.30 L381.32 133.34 L382.07 133.25 L382.81 133.21 L383.55 133.16 L384.29 133.07 L385.04 133.01 L385.78 132.94 L386.52 132.95 L387.27 132.90 L388.01 132.85 L388.75 132.86 L389.50 132.86 L390.24 132.85 L390.98 133.31 L391.73 133.22 L392.47 133.30 L393.21 133.38 L393.96 133.47 L394.70 133.47 L395.44 133.74 L396.19 133.51 L396.93 133.29 L397.67 133.31 L398.42 133.03 L399.16 132.91 L399.90 132.92 L400.65 132.70 L401.39 132.58 L402.13 132.39 L402.88 132.29 L403.62 132.39 L404.36 132.50 L405.11 132.48 L405.85 132.51 L406.59 132.51 L407.34 132.57 L408.08 132.69 L408.82 132.77 L409.56 132.64 L410.31 132.69 L411.05 132.73 L411.79 132.45 L412.54 132.27 L413.28 131.96 L414.02 131.68 L414.77 131.57 L415.51 131.00 L416.25 131.11 L417.00 130.70 L417.74 130.59 L418.48 130.29 L419.23 130.74 L419.97 130.53 L420.71 130.40 L421.46 130.34 L422.20 130.04 L422.94 130.34 L423.69 130.17 L424.43 130.23 L425.17 130.18 L425.92 130.23 L426.66 130.32 L427.40 130.33 L428.15 130.77 L428.89 130.59 L429.63 131.13 L430.38 131.11 L431.12 130.99 L431.86 131.55 L432.61 131.70 L433.35 131.70 L434.09 131.95 L434.84 131.84 L435.58 131.42 L436.32 131.12 L437.06 130.85 L437.81 130.56 L438.55 130.15 L439.29 130.09 L440.04 130.26 L440.78 130.16 L441.52 130.19 L442.27 129.87 L443.01 130.26 L443.75 130.25 L444.50 130.58 L445.24 130.79 L445.98 130.77 L446.73 130.86 L447.47 131.22 L448.21 131.48 L448.96 131.45 L449.70 131.68 L450.44 131.53 L451.19 131.26 L451.93 131.21 L452.67 131.34 L453.42 131.03 L454.16 131.39 L454.90 131.33 L455.65 131.57 L456.39 131.53 L457.13 131.82 L457.88 131.37 L458.62 131.31 L459.36 131.47 L460.11 131.32 L460.85 131.15 L461.59 130.57 L462.33 130.61 L463.08 130.36 L463.82 130.21 L464.56 129.99 L465.31 130.00 L466.05 129.95 L466.79 130.25 L467.54 130.15 L468.28 130.20 L469.02 130.60 L469.77 130.66 L470.51 130.72 L471.25 130.61 L472.00 130.67 L472.74 130.46 L473.48 130.53 L474.23 130.50 L474.97 130.36 L475.71 130.21 L476.46 130.05 L477.20 129.82 L477.94 129.58 L478.69 129.38 L479.43 129.20 L480.17 128.87 L480.92 129.00 L481.66 128.91 L482.40 128.63 L483.15 129.08 L483.89 128.94 L484.63 128.77 L485.38 128.68 L486.12 128.56 L486.86 128.52 L487.60 128.38 L488.35 128.31 L489.09 128.16 L489.83 128.39 L490.58 128.38 L491.32 128.37 L492.06 128.52 L492.81 128.59 L493.55 128.53 L494.29 128.69 L495.04 128.66 L495.78 128.72 L496.52 128.79 L497.27 128.71 L498.01 128.70 L498.75 128.74 L499.50 128.57 L500.24 128.61 L500.98 128.76 L501.73 128.66 L502.47 128.47 L503.21 128.74 L503.96 128.44 L504.70 128.19 L505.44 128.41 L506.19 127.97 L506.93 127.72 L507.67 127.11 L508.42 127.03 L509.16 126.62 L509.90 126.60 L510.65 126.23 L511.39 125.98 L512.13 126.15 L512.88 125.71 L513.62 125.96 L514.36 126.60 L515.10 126.29 L515.85 126.83 L516.59 126.81 L517.33 126.86 L518.08 127.09 L518.82 127.00 L519.56 126.86 L520.31 127.12 L521.05 127.07 L521.79 126.95 L522.54 126.79 L523.28 126.47 L524.02 126.17 L524.77 126.15 L525.51 126.02 L526.25 125.66 L527.00 125.80 L527.74 125.71 L528.48 125.61 L529.23 125.63 L529.97 125.82 L530.71 125.87 L531.46 126.28 L532.20 126.38 L532.94 126.65 L533.69 126.62 L534.43 126.75 L535.17 126.73 L535.92 126.89 L536.66 126.82 L537.40 126.72 L538.15 126.43 L538.89 126.26 L539.63 126.32 L540.37 126.05 L541.12 126.10 L541.86 125.88 L542.60 125.67 L543.35 125.50 L544.09 125.75 L544.83 125.76 L545.58 125.76 L546.32 125.97 L547.06 125.67 L547.81 125.81 L548.55 125.57 L549.29 125.89 L550.04 126.06 L550.78 125.62 L551.52 125.56 L552.27 125.95 L553.01 125.96 L553.75 126.53 L554.50 126.92 L555.24 127.00 L555.98 127.76 L556.73 127.89 L557.47 128.06 L558.21 128.19 L558.96 128.61 L559.70 128.34 L560.44 128.39 L561.19 128.02 L561.93 127.56 L562.67 127.87 L563.42 127.51 L564.16 128.17 L564.90 128.21 L565.64 128.34 L566.39 128.35 L567.13 128.89 L567.87 128.93 L568.62 128.26 L569.36 128.01 L570.10 127.82 L570.85 127.26 L571.59 127.45 L572.33 127.23 L573.08 126.89 L573.82 126.77 L574.56 126.40 L575.31 126.91 L576.05 126.79 L576.79 127.34 L577.54 126.64 L578.28 126.44 L579.02 126.11 L579.77 125.80 L580.51 126.36 L581.25 126.43 L582.00 126.50 L582.74 126.59 L583.48 126.81 L584.23 126.88 L584.97 127.42 L585.71 127.81 L586.46 128.26 L587.20 128.37 L587.94 128.87 L588.69 129.43 L589.43 129.61 L590.17 130.03 L590.92 129.95 L591.66 128.94 L592.40 128.86 L593.14 128.88 L593.89 128.61 L594.63 128.59 L595.37 128.74 L596.12 128.17 L596.86 128.23 L597.60 128.03 L598.35 128.01 L599.09 127.77 L599.83 127.60 L600.58 127.07 L601.32 127.06 L602.06 126.97 L602.81 126.74 L603.55 126.64 L604.29 126.42 L605.04 126.43 L605.78 126.31 L606.52 126.74 L607.27 126.64 L608.01 126.63 L608.75 126.67 L609.50 127.37 L610.24 127.42 L610.98 127.26 L611.73 127.61 L612.47 127.54 L613.21 127.49 L613.96 127.81 L614.70 127.54 L615.44 127.64 L616.19 127.33 L616.93 127.20 L617.67 126.99 L618.41 126.67 L619.16 126.32 L619.90 126.58 L620.64 126.34 L621.39 126.03 L622.13 126.27 L622.87 126.07 L623.62 126.09 L624.36 126.23 L625.10 126.20 L625.85 126.64 L626.59 126.35 L627.33 126.83 L628.08 126.78 L628.82 126.85 L629.56 126.91 L630.31 126.58 L631.05 126.49 L631.79 126.35 L632.54 125.97 L633.28 125.58 L634.02 125.62 L634.77 125.34 L635.51 124.97 L636.25 124.91 L637.00 125.03 L637.74 124.48 L638.48 124.61 L639.23 125.39 L639.97 125.15 L640.71 125.10 L641.46 125.03 L642.20 125.11 L642.94 125.30 L643.68 125.46 L644.43 125.28 L645.17 125.15 L645.91 125.32 L646.66 125.02 L647.40 124.55 L648.14 124.60 L648.89 124.02 L649.63 123.76 L650.37 123.31 L651.12 123.22 L651.86 122.97 L652.60 122.67 L653.35 122.62 L654.09 122.74 L654.83 122.63 L655.58 122.51 L656.32 122.53 L657.06 122.48 L657.81 122.76 L658.55 122.74 L659.29 122.97 L660.04 122.51 L660.78 122.78 L661.52 122.82 L662.27 122.93 L663.01 123.31 L663.75 123.29 L664.50 123.51 L665.24 123.88 L665.98 123.82 L666.73 123.90 L667.47 124.40 L668.21 124.24 L668.96 124.28 L669.70 124.22 L670.44 124.20 L671.18 124.09 L671.93 124.23 L672.67 124.03 L673.41 124.44 L674.16 124.23 L674.90 124.70 L675.64 124.60 L676.39 124.21 L677.13 124.29 L677.87 124.06 L678.62 123.93 L679.36 123.45 L680.10 122.81 L680.85 122.23 L681.59 121.98 L682.33 121.57 L683.08 121.32 L683.82 120.70 L684.56 121.24 L685.31 121.37 L686.05 121.09 L686.79 121.39 L687.54 120.94 L688.28 120.86 L689.02 120.72 L689.77 120.53 L690.51 120.44 L691.25 120.48 L692.00 120.22 L692.74 120.28 L693.48 120.48 L694.23 120.42 L694.97 120.61 L695.71 120.72 L696.45 120.71 L697.20 120.76 L697.94 121.04 L698.68 121.04 L699.43 121.22 L700.17 120.88 L700.91 121.10 L701.66 120.91 L702.40 121.04 L703.14 120.64 L703.89 120.56 L704.63 121.32 L705.37 121.15 L706.12 121.13 L706.86 121.32 L707.60 121.51 L708.35 121.04 L709.09 121.15 L709.83 121.21 L710.58 120.70 L711.32 120.88 L712.06 120.31 L712.81 120.38 L713.55 120.10 L714.29 119.78 L715.04 119.82 L715.78 120.08 L716.52 120.17 L717.27 119.83 L718.01 119.95 L718.75 120.70 L719.50 120.54 L720.24 120.61 L720.98 120.61 L721.72 120.95 L722.47 120.77 L723.21 120.66 L723.95 120.58 L724.70 120.40 L725.44 120.61 L726.18 120.17 L726.93 119.98 L727.67 119.60 L728.41 119.82 L729.16 119.59 L729.90 119.40 L730.64 119.20 L731.39 119.41 L732.13 119.30 L732.87 119.58 L733.62 119.53 L734.36 119.78 L735.10 119.78 L735.85 120.04 L736.59 120.30 L737.33 119.97 L738.08 120.22 L738.82 120.48 L739.56 120.22 L740.31 119.86 L741.05 119.96 L741.79 119.58 L742.54 119.24 L743.28 119.02 L744.02 118.93 L744.77 119.00 L745.51 118.21 L746.25 118.20 L747.00 118.29 L747.74 118.38 L748.48 118.33 L749.22 118.49 L749.97 118.55 L750.71 118.52 L751.45 118.51 L752.20 118.52 L752.94 118.60 L753.68 118.39 L754.43 118.63 L755.17 118.26 L755.91 118.29 L756.66 117.96 L757.40 117.67 L758.14 117.64 L758.89 117.59 L759.63 117.33 L760.37 117.15 L761.12 117.20 L761.86 116.95 L762.60 116.89 L763.35 117.00 L764.09 116.96 L764.83 116.92 L765.58 116.98 L766.32 117.10 L767.06 117.28 L767.81 117.57 L768.55 117.66 L769.29 117.83 L770.04 117.97 L770.78 117.85 L771.52 117.90 L772.27 117.45 L773.01 117.19 L773.75 117.14 L774.49 116.77 L775.24 116.47 L775.98 116.38 L776.72 115.79 L777.47 116.44 L778.21 116.10 L778.95 116.43 L779.70 116.02 L780.44 115.73 L781.18 116.63 L781.93 115.97 L782.67 115.83 L783.41 115.97 L784.16 115.73 L784.90 116.33 L785.64 115.56 L786.39 115.35 L787.13 114.98 L787.87 114.68 L788.62 113.95 L789.36 113.77 L790.10 113.16 L790.85 112.88 L791.59 112.84 L792.33 111.88 L793.08 111.50 L793.82 111.37 L794.56 111.75 L795.31 111.56 L796.05 111.41 L796.79 111.42 L797.54 110.35 L798.28 109.46 L799.02 110.45 L799.76 110.46 L800.51 108.43 L801.25 107.43 L801.99 107.83 L802.74 108.29 L803.48 109.43 L804.22 109.88 L804.97 109.46 L805.71 110.79 L806.45 112.36 L807.20 113.50 L807.94 113.26 L808.68 114.89 L809.43 116.93 L810.17 117.63 L810.91 117.83 L811.66 118.64 L812.40 116.84 L813.14 117.93 L813.89 118.80 L814.63 117.75 L815.37 119.12 L816.12 118.97 L816.86 119.40 L817.60 120.48 L818.35 120.85 L819.09 121.64 L819.83 122.51 L820.58 122.93 L821.32 122.61 L822.06 122.54 L822.81 122.33 L823.55 122.48 L824.29 122.04 L825.04 121.16 L825.78 120.54 L826.52 119.36 L827.26 119.03 L828.01 117.81 L828.75 117.10 L829.49 116.63 L830.24 116.43 L830.98 116.00 L831.72 115.12 L832.47 115.03 L833.21 113.80 L833.95 112.70 L834.70 112.65 L835.44 112.10 L836.18 112.70 L836.93 112.49 L837.67 112.54 L838.41 112.41 L839.16 111.37 L839.90 111.33 L840.64 111.99 L841.39 111.69 L842.13 111.36 L842.87 111.40 L843.62 112.38 L844.36 112.77 L845.10 112.59 L845.85 112.33 L846.59 112.08 L847.33 112.26 L848.08 112.38 L848.82 112.01 L849.56 111.69 L850.31 111.41 L851.05 110.75 L851.79 110.91 L852.53 110.55 L853.28 109.93 L854.02 109.87 L854.76 109.80 L855.51 109.83 L856.25 109.78 L856.99 109.70 L857.74 110.02 L858.48 110.05 L859.22 110.77 L859.97 110.70 L860.71 110.98 L861.45 110.84 L862.20 110.64 L862.94 111.52 L863.68 111.16 L864.43 110.75 L865.17 110.51 L865.91 109.94 L866.66 109.13 L867.40 108.27 L868.14 108.20 L868.89 107.81 L869.63 107.89 L870.37 106.35 L871.12 106.56 L871.86 106.64 L872.60 107.01 L873.35 106.73 L874.09 107.09 L874.83 107.06 L875.58 107.11 L876.32 107.38 L877.06 107.47 L877.80 107.92 L878.55 107.50 L879.29 108.18 L880.03 108.35 L880.78 107.69 L881.52 107.58 L882.26 107.40 L883.01 106.99 L883.75 106.58 L884.49 106.70 L885.24 106.19 L885.98 105.55 L886.72 105.63 L887.47 106.16 L888.21 106.41 L888.95 106.79 L889.70 107.10 L890.44 105.86 L891.18 106.39 L891.93 107.47 L892.67 106.78 L893.41 107.32 L894.16 106.96 L894.90 107.64 L895.64 107.08 L896.39 105.82 L897.13 106.54 L897.87 106.08 L898.62 105.69 L899.36 105.57 L900.10 104.84 L900.85 103.21 L901.59 102.79 L902.33 102.64 L903.08 102.38 L903.82 101.47 L904.56 101.88 L905.30 101.61 L906.05 101.20 L906.79 100.31 L907.53 99.63 L908.28 99.66 L909.02 99.68 L909.76 99.26 L910.51 98.29 L911.25 98.92 L911.99 100.44 L912.74 100.77 L913.48 101.54 L914.22 102.34 L914.97 103.30 L915.71 104.39 L916.45 104.70 L917.20 105.88 L917.94 105.00 L918.68 105.03 L919.43 105.56 L920.17 104.02 L920.91 103.96 L921.66 103.88 L922.40 102.40 L923.14 102.54 L923.89 101.91 L924.63 102.83 L925.37 102.03 L926.12 101.86 L926.86 102.24 L927.60 102.76 L928.35 102.96 L929.09 104.34 L929.83 104.77 L930.57 105.33 L931.32 105.55 L932.06 106.08 L932.80 106.26 L933.55 106.67 L934.29 106.73 L935.03 106.95 L935.78 106.84 L936.52 106.35 L937.26 105.98 L938.01 106.34 L938.75 106.61 L939.49 106.03 L940.24 106.94 L940.98 106.60 L941.72 106.52 L942.47 106.77 L943.21 105.91 L943.95 106.18 L944.70 104.93 L945.44 104.78 L946.18 104.99 L946.93 103.70 L947.67 103.83 L948.41 102.57 L949.16 103.05 L949.90 103.24 L950.64 103.49 L951.39 104.13 L952.13 104.32 L952.87 105.02 L953.62 104.90 L954.36 105.23 L955.10 105.35 L955.84 106.23 L956.59 105.47 L957.33 105.91 L958.07 106.20 L958.82 105.49 L959.56 105.14 L960.30 104.66 L961.05 104.73 L961.79 103.66 L962.53 103.63 L963.28 102.58 L964.02 102.75 L964.76 102.23 L965.51 102.48 L966.25 102.66 L966.99 102.14 L967.74 102.19 L968.48 102.24 L969.22 103.05 L969.97 104.17 L970.71 105.15 L971.45 105.27 L972.20 105.81 L972.94 106.40 L973.68 105.84 L974.43 105.73 L975.17 105.63 L975.91 104.66 L976.66 104.00 L977.40 103.06 L978.14 102.05 L978.89 101.17 L979.63 101.06 L980.37 100.80 L981.12 99.60 L981.86 100.14 L982.60 99.73 L983.34 100.86 L984.09 99.56 L984.83 98.98 L985.57 98.97 L986.32 98.42 L987.06 97.79 L987.80 97.38 L988.55 96.92 L989.29 97.55 L990.03 97.87 L990.78 97.59 L991.52 97.68 L992.26 98.05 L993.01 98.59 L993.75 98.28 L994.49 98.46 L995.24 98.89 L995.98 99.79 L996.72 99.96 L997.47 100.20 L998.21 100.89 L998.95 101.56 L999.70 100.37 L1000.44 100.40 L1001.18 100.35 L1001.93 100.00 L1002.67 100.17 L1003.41 99.91 L1004.16 99.81 L1004.90 99.70 L1005.64 99.65 L1006.39 100.26 L1007.13 99.93 L1007.87 100.24 L1008.61 100.59 L1009.36 100.83 L1010.10 100.75 L1010.84 101.38 L1011.59 101.42 L1012.33 101.29 L1013.07 100.60 L1013.82 100.06 L1014.56 99.90 L1015.30 98.86 L1016.05 98.85 L1016.79 98.50 L1017.53 98.80 L1018.28 97.75 L1019.02 98.01 L1019.76 98.01 L1020.51 97.32 L1021.25 96.63 L1021.99 95.35 L1022.74 94.91 L1023.48 95.36 L1024.22 94.23 L1024.97 93.88 L1025.71 94.01 L1026.45 93.96 L1027.20 93.54 L1027.94 93.90 L1028.68 93.98 L1029.43 94.61 L1030.17 95.61 L1030.91 95.10 L1031.66 95.74 L1032.40 95.46 L1033.14 96.18 L1033.88 96.32 L1034.63 96.61 L1035.37 96.79 L1036.11 96.84 L1036.86 97.48 L1037.60 98.07 L1038.34 98.51 L1039.09 99.13 L1039.83 99.11 L1040.57 99.32 L1041.32 99.61 L1042.06 99.49 L1042.80 99.83 L1043.55 99.46 L1044.29 99.18 L1045.03 99.04 L1045.78 98.10 L1046.52 97.02 L1047.26 97.55 L1048.01 98.08 L1048.75 98.82 L1049.49 97.83 L1050.24 97.53 L1050.98 97.97 L1051.72 97.30 L1052.47 96.43 L1053.21 95.90 L1053.95 95.83 L1054.70 94.61 L1055.44 94.05 L1056.18 94.26 L1056.93 93.17 L1057.67 92.89 L1058.41 91.88 L1059.16 91.55 L1059.90 92.10 L1060.64 92.50 L1061.38 91.28 L1062.13 92.20 L1062.87 91.94 L1063.61 92.76 L1064.36 92.14 L1065.10 91.90 L1065.84 91.96 L1066.59 92.62 L1067.33 92.22 L1068.07 91.93 L1068.82 91.21 L1069.56 90.80 L1070.30 90.66 L1071.05 90.66 L1071.79 89.68 L1072.53 89.61 L1073.28 88.91 L1074.02 88.75 L1074.76 88.54 L1075.51 88.77 L1076.25 89.28 L1076.99 89.12 L1077.74 88.61 L1078.48 89.27 L1079.22 88.97 L1079.97 88.74 L1080.71 88.70 L1081.45 88.91 L1082.20 89.43 L1082.94 89.04 L1083.68 88.08 L1084.43 87.52 L1085.17 86.37 L1085.91 86.85 L1086.65 85.74 L1087.40 85.33 L1088.14 85.52 L1088.88 84.76 L1089.63 84.09 L1090.37 84.36 L1091.11 84.40 L1091.86 84.35 L1092.60 84.85 L1093.34 84.37 L1094.09 84.72 L1094.83 84.70 L1095.57 84.36 L1096.32 84.71 L1097.06 84.44 L1097.80 84.03 L1098.55 84.93 L1099.29 85.57 L1100.03 85.87 L1100.78 86.80 L1101.52 86.92 L1102.26 88.25 L1103.01 88.23 L1103.75 89.16 L1104.49 89.83 L1105.24 89.47 L1105.98 90.34 L1106.72 89.56 L1107.47 89.95 L1108.21 89.75 L1108.95 90.84 L1109.70 89.42 L1110.44 89.30 L1111.18 90.42 L1111.92 90.47 L1112.67 88.74 L1113.41 90.34 L1114.15 89.94 L1114.90 88.90 L1115.64 86.98 L1116.38 85.88 L1117.13 84.80 L1117.87 82.57 L1118.61 82.79 L1119.36 81.06 L1120.10 79.20 L1120.84 80.01 L1121.59 78.62 L1122.33 78.09 L1123.07 80.28 L1123.82 80.12 L1124.56 79.81 L1125.30 79.62 L1126.05 78.37 L1126.79 78.55 L1127.53 77.28 L1128.28 76.45 L1129.02 76.86 L1129.76 76.42 L1130.51 77.10 L1131.25 76.45 L1131.99 77.10 L1132.74 77.14 L1133.48 77.22 L1134.22 77.26 L1134.97 77.72 L1135.71 77.79 L1136.45 78.04 L1137.20 77.58 L1137.94 77.73 L1138.68 77.26 L1139.42 77.82 L1140.17 76.33 L1140.91 76.00 L1141.65 76.91 L1142.40 77.78 L1143.14 77.63 L1143.88 78.46 L1144.63 79.10 L1145.37 78.64 L1146.11 77.75 L1146.86 77.51 L1147.60 77.32 L1148.34 77.26 L1149.09 76.99 L1149.83 76.00 L1150.57 76.00 L1151.32 76.00 L1152.06 76.17 L1152.80 76.16 L1153.55 76.00 L1154.29 76.60 L1155.03 76.48 L1155.78 76.83 L1156.52 77.26 L1157.26 77.47 L1158.01 78.49 L1158.75 78.34 L1159.49 76.20 L1160.24 78.33 L1160.98 77.94 L1161.72 81.31 L1162.47 81.42 L1163.21 82.28 L1163.95 83.01 L1164.69 86.16 L1165.44 86.11 L1166.18 87.65 L1166.92 89.95 L1167.67 89.82 L1168.41 90.34 L1169.15 89.64 L1169.90 88.39 L1170.64 89.28 L1171.38 85.60 L1172.13 85.45 L1172.87 85.04 L1173.61 83.77 L1174.36 82.42 L1175.10 82.49 L1175.84 81.35 L1176.59 83.14 L1177.33 83.87 L1178.07 82.86 L1178.82 84.17 L1179.56 84.49 L1180.30 86.16 L1181.05 85.86 L1181.79 86.81 L1182.53 87.23 L1183.28 87.88 L1184.02 86.43 L1184.76 86.74 L1185.51 86.60 L1186.25 86.79 L1186.99 85.69 L1187.74 87.97 L1188.48 89.28 L1189.22 90.34 L1189.96 91.16 L1190.71 91.99 L1191.45 91.66 L1192.19 91.23 L1192.94 90.15 L1193.68 89.36 L1194.42 87.72 L1195.17 86.99 L1195.91 85.60 L1196.65 84.49 L1197.40 83.40 L1198.14 83.90 L1198.88 82.10 L1199.63 82.17 L1200.37 81.41 L1201.11 83.32 L1201.86 83.27 L1202.60 83.23 L1203.34 83.43 L1204.09 82.82 L1204.83 83.86 L1205.57 83.20 L1206.32 84.84 L1207.06 85.23 L1207.80 84.29 L1208.55 85.94 L1209.29 87.09 L1210.03 88.45 L1210.78 88.78 L1211.52 90.34 L1212.26 89.59 L1213.01 91.01 L1213.75 90.65 L1214.49 91.43 L1215.24 91.99 L1215.98 90.91 L1216.72 88.80 L1217.46 89.10 L1217.50 88.70" fill="none" stroke="#9a9a9a" stroke-width="1.2" stroke-linejoin="round"/>
<g style="will-change:transform"><text transform="translate(104.95 141.80) scale(1.0506 0.9852)" font-size="18" fill="#707070">2016</text>
<text transform="translate(292.40 141.80) scale(1.0509 0.9846)" font-size="18" fill="#707070">2017</text>
<text transform="translate(479.85 141.80) scale(1.0503 0.9852)" font-size="18" fill="#707070">2018</text>
<text transform="translate(667.30 141.80) scale(1.0508 0.9852)" font-size="18" fill="#707070">2019</text>
<text transform="translate(854.75 141.80) scale(1.0506 0.9852)" font-size="18" fill="#707070">2020</text>
<text transform="translate(1042.20 141.80) scale(1.0509 0.9852)" font-size="18" fill="#707070">2021</text></g>
<circle cx="32.0" cy="112.7" r="21.4" fill="#d9d9d9" stroke="#fff" stroke-width="1.2"/>
<line x1="29.0" y1="104" x2="29.0" y2="121.9" stroke="#5a5a5a" stroke-width="1.8"/>
<line x1="34.9" y1="104" x2="34.9" y2="121.9" stroke="#5a5a5a" stroke-width="1.8"/>
<circle cx="1217.5" cy="112.7" r="21.4" fill="#d9d9d9" stroke="#fff" stroke-width="1.2"/>
<line x1="1214.5" y1="104" x2="1214.5" y2="121.9" stroke="#5a5a5a" stroke-width="1.8"/>
<line x1="1220.4" y1="104" x2="1220.4" y2="121.9" stroke="#5a5a5a" stroke-width="1.8"/>
<line x1="32.0" y1="173.30" x2="1217.5" y2="173.30" stroke="#e6e6e6" stroke-width="1"/>
<line x1="32.0" y1="244.88" x2="1217.5" y2="244.88" stroke="#e6e6e6" stroke-width="1"/>
<line x1="32.0" y1="316.46" x2="1217.5" y2="316.46" stroke="#e6e6e6" stroke-width="1"/>
<line x1="32.0" y1="388.04" x2="1217.5" y2="388.04" stroke="#e6e6e6" stroke-width="1"/>
<line x1="32.0" y1="459.62" x2="1217.5" y2="459.62" stroke="#e6e6e6" stroke-width="1"/>
<line x1="32.0" y1="531.20" x2="1217.5" y2="531.20" stroke="#e6e6e6" stroke-width="1"/>
<line x1="32.0" y1="602.78" x2="1217.5" y2="602.78" stroke="#e6e6e6" stroke-width="1"/>
<line x1="32.0" y1="674.36" x2="1217.5" y2="674.36" stroke="#e6e6e6" stroke-width="1"/>
<line x1="32.5" y1="173.3" x2="32.5" y2="674.4" stroke="#e6e6e6" stroke-width="1"/>
<line x1="219.6" y1="173.3" x2="219.6" y2="674.4" stroke="#e6e6e6" stroke-width="1"/>
<line x1="594.6" y1="173.3" x2="594.6" y2="674.4" stroke="#e6e6e6" stroke-width="1"/>
<line x1="968.0" y1="173.3" x2="968.0" y2="674.4" stroke="#e6e6e6" stroke-width="1"/>
<g style="will-change:transform"><text transform="translate(1225.11 180.60) scale(1.0033 1.0154)" font-size="18.5" fill="#222">350.00</text>
<text transform="translate(1225.11 252.18) scale(1.0033 1.0160)" font-size="18.5" fill="#222">300.00</text>
<text transform="translate(1225.11 323.76) scale(1.0034 1.0154)" font-size="18.5" fill="#222">250.00</text>
<text transform="translate(1225.11 395.34) scale(1.0034 1.0157)" font-size="18.5" fill="#222">200.00</text>
<text transform="translate(1224.74 466.92) scale(1.0100 1.0154)" font-size="18.5" fill="#222">150.00</text>
<text transform="translate(1224.74 538.50) scale(1.0100 1.0163)" font-size="18.5" fill="#222">100.00</text>
<text transform="translate(1225.10 610.08) scale(0.9932 1.0154)" font-size="18.5" fill="#222">50.00</text>
<text transform="translate(1225.19 681.68) scale(0.9948 1.0194)" font-size="18.5" fill="#222">0.00</text></g>
<g style="will-change:transform"><text transform="translate(10.67 698.10) scale(1.0387 1.0311)" font-size="18.5" fill="#222">2016</text>
<text transform="translate(197.87 698.10) scale(1.0393 1.0308)" font-size="18.5" fill="#222">2017</text>
<text transform="translate(572.47 698.10) scale(1.0392 1.0311)" font-size="18.5" fill="#222">2019</text>
<text transform="translate(946.57 698.10) scale(1.0388 1.0311)" font-size="18.5" fill="#222">2021</text></g>
<rect x="39.25" y="597.00" width="1.3" height="7.00" fill="#52b200"/>
<rect x="35.10" y="595.00" width="9.6" height="2.00" fill="#52b200"/>
<rect x="54.86" y="602.00" width="1.3" height="4.00" fill="#b30000"/>
<rect x="50.71" y="595.00" width="9.6" height="7.00" fill="#b30000"/>
<rect x="66.32" y="594.70" width="9.6" height="7.30" fill="#52b200"/>
<rect x="86.07" y="593.00" width="1.3" height="2.00" fill="#b30000"/>
<rect x="81.92" y="595.00" width="9.6" height="9.00" fill="#b30000"/>
<rect x="97.53" y="598.00" width="9.6" height="6.00" fill="#52b200"/>
<rect x="117.29" y="601.60" width="1.3" height="4.40" fill="#b30000"/>
<rect x="113.14" y="598.60" width="9.6" height="3.00" fill="#b30000"/>
<rect x="132.90" y="602.00" width="1.3" height="1.00" fill="#52b200"/>
<rect x="128.75" y="592.30" width="9.6" height="9.70" fill="#52b200"/>
<rect x="148.51" y="590.00" width="1.3" height="1.40" fill="#52b200"/>
<rect x="144.36" y="591.40" width="9.6" height="2.60" fill="#52b200"/>
<rect x="164.11" y="593.60" width="1.3" height="1.10" fill="#52b200"/>
<rect x="159.96" y="591.40" width="9.6" height="2.20" fill="#52b200"/>
<rect x="179.72" y="586.40" width="1.3" height="1.60" fill="#52b200"/>
<rect x="179.72" y="593.00" width="1.3" height="1.00" fill="#52b200"/>
<rect x="175.57" y="588.00" width="9.6" height="5.00" fill="#52b200"/>
<rect x="195.33" y="586.40" width="1.3" height="1.30" fill="#52b200"/>
<rect x="195.33" y="589.50" width="1.3" height="3.00" fill="#52b200"/>
<rect x="191.18" y="587.70" width="9.6" height="1.80" fill="#52b200"/>
<rect x="210.94" y="582.00" width="1.3" height="2.50" fill="#52b200"/>
<rect x="210.94" y="589.40" width="1.3" height="1.10" fill="#52b200"/>
<rect x="206.79" y="584.50" width="9.6" height="4.90" fill="#52b200"/>
<rect x="226.55" y="580.00" width="1.3" height="1.40" fill="#52b200"/>
<rect x="222.40" y="581.40" width="9.6" height="3.60" fill="#52b200"/>
<rect x="242.15" y="584.00" width="1.3" height="0.80" fill="#b30000"/>
<rect x="238.00" y="581.40" width="9.6" height="2.60" fill="#b30000"/>
<rect x="253.61" y="579.50" width="9.6" height="3.70" fill="#52b200"/>
<rect x="273.37" y="581.00" width="1.3" height="0.80" fill="#52b200"/>
<rect x="269.22" y="576.00" width="9.6" height="5.00" fill="#52b200"/>
<rect x="288.98" y="577.00" width="1.3" height="1.50" fill="#52b200"/>
<rect x="284.83" y="574.00" width="9.6" height="3.00" fill="#52b200"/>
<rect x="304.59" y="570.00" width="1.3" height="2.70" fill="#b30000"/>
<rect x="300.44" y="572.70" width="9.6" height="3.90" fill="#b30000"/>
<rect x="320.19" y="568.00" width="1.3" height="1.70" fill="#52b200"/>
<rect x="320.19" y="576.00" width="1.3" height="1.00" fill="#52b200"/>
<rect x="316.04" y="569.70" width="9.6" height="6.30" fill="#52b200"/>
<rect x="335.80" y="570.00" width="1.3" height="2.00" fill="#52b200"/>
<rect x="331.65" y="566.80" width="9.6" height="3.20" fill="#52b200"/>
<rect x="351.41" y="565.50" width="1.3" height="1.10" fill="#b30000"/>
<rect x="351.41" y="568.60" width="1.3" height="1.10" fill="#b30000"/>
<rect x="347.26" y="566.60" width="9.6" height="2.00" fill="#b30000"/>
<rect x="367.02" y="551.00" width="1.3" height="4.00" fill="#52b200"/>
<rect x="362.87" y="555.00" width="9.6" height="13.00" fill="#52b200"/>
<rect x="382.63" y="555.50" width="1.3" height="1.30" fill="#52b200"/>
<rect x="378.48" y="553.00" width="9.6" height="2.50" fill="#52b200"/>
<rect x="398.23" y="549.00" width="1.3" height="2.40" fill="#52b200"/>
<rect x="398.23" y="555.60" width="1.3" height="3.00" fill="#52b200"/>
<rect x="394.08" y="551.40" width="9.6" height="4.20" fill="#52b200"/>
<rect x="409.69" y="538.00" width="9.6" height="13.80" fill="#52b200"/>
<rect x="429.45" y="537.00" width="1.3" height="1.00" fill="#b30000"/>
<rect x="429.45" y="540.70" width="1.3" height="13.80" fill="#b30000"/>
<rect x="425.30" y="538.00" width="9.6" height="2.70" fill="#b30000"/>
<rect x="445.06" y="535.00" width="1.3" height="4.00" fill="#b30000"/>
<rect x="445.06" y="544.40" width="1.3" height="5.40" fill="#b30000"/>
<rect x="440.91" y="539.00" width="9.6" height="5.40" fill="#b30000"/>
<rect x="460.67" y="534.00" width="1.3" height="5.80" fill="#52b200"/>
<rect x="460.67" y="545.60" width="1.3" height="3.40" fill="#52b200"/>
<rect x="456.52" y="539.80" width="9.6" height="5.80" fill="#52b200"/>
<rect x="476.27" y="531.00" width="1.3" height="1.00" fill="#52b200"/>
<rect x="472.12" y="532.00" width="9.6" height="9.80" fill="#52b200"/>
<rect x="491.88" y="527.00" width="1.3" height="4.40" fill="#b30000"/>
<rect x="491.88" y="533.50" width="1.3" height="1.80" fill="#b30000"/>
<rect x="487.73" y="531.40" width="9.6" height="2.10" fill="#b30000"/>
<rect x="507.49" y="515.00" width="1.3" height="7.00" fill="#52b200"/>
<rect x="503.34" y="522.00" width="9.6" height="12.70" fill="#52b200"/>
<rect x="523.10" y="523.50" width="1.3" height="0.90" fill="#52b200"/>
<rect x="518.95" y="513.00" width="9.6" height="10.50" fill="#52b200"/>
<rect x="538.71" y="509.00" width="1.3" height="1.00" fill="#52b200"/>
<rect x="538.71" y="516.50" width="1.3" height="4.50" fill="#52b200"/>
<rect x="534.56" y="510.00" width="9.6" height="6.50" fill="#52b200"/>
<rect x="554.31" y="508.00" width="1.3" height="1.00" fill="#b30000"/>
<rect x="554.31" y="521.80" width="1.3" height="9.60" fill="#b30000"/>
<rect x="550.16" y="509.00" width="9.6" height="12.80" fill="#b30000"/>
<rect x="569.92" y="513.80" width="1.3" height="1.20" fill="#52b200"/>
<rect x="569.92" y="521.80" width="1.3" height="10.20" fill="#52b200"/>
<rect x="565.77" y="515.00" width="9.6" height="6.80" fill="#52b200"/>
<rect x="585.53" y="529.50" width="1.3" height="10.30" fill="#b30000"/>
<rect x="581.38" y="512.00" width="9.6" height="17.50" fill="#b30000"/>
<rect x="601.14" y="520.00" width="1.3" height="4.30" fill="#52b200"/>
<rect x="601.14" y="532.50" width="1.3" height="2.50" fill="#52b200"/>
<rect x="596.99" y="524.30" width="9.6" height="8.20" fill="#52b200"/>
<rect x="616.75" y="512.30" width="1.3" height="0.70" fill="#52b200"/>
<rect x="616.75" y="526.40" width="1.3" height="1.30" fill="#52b200"/>
<rect x="612.60" y="513.00" width="9.6" height="13.40" fill="#52b200"/>
<rect x="632.35" y="501.00" width="1.3" height="4.00" fill="#52b200"/>
<rect x="632.35" y="513.50" width="1.3" height="5.50" fill="#52b200"/>
<rect x="628.20" y="505.00" width="9.6" height="8.50" fill="#52b200"/>
<rect x="647.96" y="504.70" width="1.3" height="0.90" fill="#52b200"/>
<rect x="643.81" y="486.80" width="9.6" height="17.90" fill="#52b200"/>
<rect x="663.57" y="497.70" width="1.3" height="0.70" fill="#b30000"/>
<rect x="659.42" y="486.80" width="9.6" height="10.90" fill="#b30000"/>
<rect x="679.18" y="476.00" width="1.3" height="5.80" fill="#52b200"/>
<rect x="679.18" y="497.50" width="1.3" height="6.30" fill="#52b200"/>
<rect x="675.03" y="481.80" width="9.6" height="15.70" fill="#52b200"/>
<rect x="694.79" y="471.40" width="1.3" height="6.60" fill="#b30000"/>
<rect x="694.79" y="479.80" width="1.3" height="1.60" fill="#b30000"/>
<rect x="690.64" y="478.00" width="9.6" height="1.80" fill="#b30000"/>
<rect x="710.39" y="472.30" width="1.3" height="3.70" fill="#52b200"/>
<rect x="710.39" y="478.60" width="1.3" height="8.40" fill="#52b200"/>
<rect x="706.24" y="476.00" width="9.6" height="2.60" fill="#52b200"/>
<rect x="726.00" y="470.20" width="1.3" height="4.30" fill="#52b200"/>
<rect x="726.00" y="479.30" width="1.3" height="2.50" fill="#52b200"/>
<rect x="721.85" y="474.50" width="9.6" height="4.80" fill="#52b200"/>
<rect x="741.61" y="465.60" width="1.3" height="3.00" fill="#52b200"/>
<rect x="741.61" y="475.00" width="1.3" height="8.60" fill="#52b200"/>
<rect x="737.46" y="468.60" width="9.6" height="6.40" fill="#52b200"/>
<rect x="757.22" y="468.40" width="1.3" height="1.40" fill="#52b200"/>
<rect x="753.07" y="457.00" width="9.6" height="11.40" fill="#52b200"/>
<rect x="772.83" y="446.20" width="1.3" height="1.80" fill="#52b200"/>
<rect x="772.83" y="457.50" width="1.3" height="7.00" fill="#52b200"/>
<rect x="768.68" y="448.00" width="9.6" height="9.50" fill="#52b200"/>
<rect x="788.43" y="425.00" width="1.3" height="5.00" fill="#52b200"/>
<rect x="788.43" y="447.50" width="1.3" height="2.50" fill="#52b200"/>
<rect x="784.28" y="430.00" width="9.6" height="17.50" fill="#52b200"/>
<rect x="804.04" y="401.00" width="1.3" height="28.60" fill="#b30000"/>
<rect x="804.04" y="443.00" width="1.3" height="13.60" fill="#b30000"/>
<rect x="799.89" y="429.60" width="9.6" height="13.40" fill="#b30000"/>
<rect x="819.65" y="423.60" width="1.3" height="13.40" fill="#b30000"/>
<rect x="819.65" y="448.80" width="1.3" height="36.00" fill="#b30000"/>
<rect x="815.50" y="437.00" width="9.6" height="11.80" fill="#b30000"/>
<rect x="835.26" y="455.60" width="1.3" height="3.20" fill="#52b200"/>
<rect x="831.11" y="417.00" width="9.6" height="38.60" fill="#52b200"/>
<rect x="850.87" y="405.70" width="1.3" height="5.50" fill="#52b200"/>
<rect x="850.87" y="423.40" width="1.3" height="2.20" fill="#52b200"/>
<rect x="846.72" y="411.20" width="9.6" height="12.20" fill="#52b200"/>
<rect x="866.47" y="413.70" width="1.3" height="1.00" fill="#52b200"/>
<rect x="862.32" y="382.00" width="9.6" height="31.70" fill="#52b200"/>
<rect x="882.08" y="364.40" width="1.3" height="15.80" fill="#52b200"/>
<rect x="882.08" y="383.80" width="1.3" height="7.80" fill="#52b200"/>
<rect x="877.93" y="380.20" width="9.6" height="3.60" fill="#52b200"/>
<rect x="897.69" y="343.00" width="1.3" height="8.00" fill="#52b200"/>
<rect x="897.69" y="372.00" width="1.3" height="11.60" fill="#52b200"/>
<rect x="893.54" y="351.00" width="9.6" height="21.00" fill="#52b200"/>
<rect x="913.30" y="341.00" width="1.3" height="10.00" fill="#b30000"/>
<rect x="913.30" y="373.60" width="1.3" height="19.10" fill="#b30000"/>
<rect x="909.15" y="351.00" width="9.6" height="22.60" fill="#b30000"/>
<rect x="928.91" y="351.60" width="1.3" height="16.40" fill="#b30000"/>
<rect x="928.91" y="385.00" width="1.3" height="3.40" fill="#b30000"/>
<rect x="924.76" y="368.00" width="9.6" height="17.00" fill="#b30000"/>
<rect x="944.51" y="347.70" width="1.3" height="19.60" fill="#52b200"/>
<rect x="944.51" y="382.50" width="1.3" height="5.20" fill="#52b200"/>
<rect x="940.36" y="367.30" width="9.6" height="15.20" fill="#52b200"/>
<rect x="960.12" y="349.00" width="1.3" height="6.30" fill="#52b200"/>
<rect x="960.12" y="367.70" width="1.3" height="7.00" fill="#52b200"/>
<rect x="955.97" y="355.30" width="9.6" height="12.40" fill="#52b200"/>
<rect x="975.73" y="326.80" width="1.3" height="14.80" fill="#52b200"/>
<rect x="975.73" y="356.50" width="1.3" height="14.50" fill="#52b200"/>
<rect x="971.58" y="341.60" width="9.6" height="14.90" fill="#52b200"/>
<rect x="991.34" y="321.60" width="1.3" height="15.40" fill="#b30000"/>
<rect x="991.34" y="342.30" width="1.3" height="5.40" fill="#b30000"/>
<rect x="987.19" y="337.00" width="9.6" height="5.30" fill="#b30000"/>
<rect x="1006.95" y="329.30" width="1.3" height="6.30" fill="#b30000"/>
<rect x="1006.95" y="337.50" width="1.3" height="16.00" fill="#b30000"/>
<rect x="1002.80" y="335.60" width="9.6" height="1.90" fill="#b30000"/>
<rect x="1022.55" y="297.30" width="1.3" height="15.40" fill="#52b200"/>
<rect x="1018.40" y="312.70" width="9.6" height="20.90" fill="#52b200"/>
<rect x="1038.16" y="310.00" width="1.3" height="0.70" fill="#b30000"/>
<rect x="1038.16" y="317.30" width="1.3" height="16.30" fill="#b30000"/>
<rect x="1034.01" y="310.70" width="9.6" height="6.60" fill="#b30000"/>
<rect x="1053.77" y="315.00" width="1.3" height="11.20" fill="#52b200"/>
<rect x="1049.62" y="285.50" width="9.6" height="29.50" fill="#52b200"/>
<rect x="1069.38" y="258.70" width="1.3" height="7.00" fill="#52b200"/>
<rect x="1065.23" y="265.70" width="9.6" height="23.00" fill="#52b200"/>
<rect x="1084.99" y="236.20" width="1.3" height="5.10" fill="#52b200"/>
<rect x="1084.99" y="264.70" width="1.3" height="3.00" fill="#52b200"/>
<rect x="1080.84" y="241.30" width="9.6" height="23.40" fill="#52b200"/>
<rect x="1100.59" y="237.00" width="1.3" height="2.80" fill="#b30000"/>
<rect x="1096.44" y="239.80" width="9.6" height="31.20" fill="#b30000"/>
<rect x="1116.20" y="270.50" width="1.3" height="2.00" fill="#52b200"/>
<rect x="1112.05" y="198.60" width="9.6" height="71.90" fill="#52b200"/>
<rect x="1131.81" y="173.30" width="1.3" height="26.00" fill="#b30000"/>
<rect x="1131.81" y="201.30" width="1.3" height="5.40" fill="#b30000"/>
<rect x="1127.66" y="199.30" width="9.6" height="2.00" fill="#b30000"/>
<rect x="1147.42" y="181.00" width="1.3" height="10.90" fill="#52b200"/>
<rect x="1147.42" y="194.80" width="1.3" height="24.60" fill="#52b200"/>
<rect x="1143.27" y="191.90" width="9.6" height="2.90" fill="#52b200"/>
<rect x="1163.03" y="189.90" width="1.3" height="3.30" fill="#b30000"/>
<rect x="1163.03" y="229.50" width="1.3" height="49.50" fill="#b30000"/>
<rect x="1158.88" y="193.20" width="9.6" height="36.30" fill="#b30000"/>
<rect x="1178.63" y="223.00" width="1.3" height="6.20" fill="#b30000"/>
<rect x="1178.63" y="246.70" width="1.3" height="38.60" fill="#b30000"/>
<rect x="1174.48" y="229.20" width="9.6" height="17.50" fill="#b30000"/>
<rect x="1194.24" y="221.70" width="1.3" height="10.50" fill="#52b200"/>
<rect x="1194.24" y="250.30" width="1.3" height="37.30" fill="#52b200"/>
<rect x="1190.09" y="232.20" width="9.6" height="18.10" fill="#52b200"/>
<rect x="1209.85" y="223.00" width="1.3" height="7.50" fill="#b30000"/>
<rect x="1209.85" y="269.20" width="1.3" height="18.40" fill="#b30000"/>
<rect x="1205.70" y="230.50" width="9.6" height="38.70" fill="#b30000"/>
<circle cx="1140.2" cy="202.4" r="17.5" fill="rgba(255,255,255,0.6)" stroke="#9a9a9a" stroke-width="1"/><g fill="none" stroke="#9a9a9a" stroke-width="1"><path d="M1140.2 193.4 L1140.2 211.4"/><path d="M1132.2 203.4 L1140.2 211.4 L1148.2 203.4"/></g>
<circle cx="1185.4" cy="202.4" r="17.5" fill="rgba(255,255,255,0.6)" stroke="#9a9a9a" stroke-width="1"/><g fill="none" stroke="#8a8a8a" stroke-width="1"><path d="M1176.0 198.6 V193.3 H1194.8 V198.6"/><path d="M1176.0 206.2 V211.5 H1194.8 V206.2"/></g>
<line x1="32.0" y1="716.50" x2="1217.5" y2="716.50" stroke="#e6e6e6" stroke-width="1"/>
<line x1="32.0" y1="830.80" x2="1217.5" y2="830.80" stroke="#e6e6e6" stroke-width="1"/>
<line x1="32.0" y1="945.50" x2="1217.5" y2="945.50" stroke="#e6e6e6" stroke-width="1"/>
<line x1="32.5" y1="716.5" x2="32.5" y2="945.5" stroke="#e6e6e6" stroke-width="1"/>
<line x1="219.6" y1="716.5" x2="219.6" y2="945.5" stroke="#e6e6e6" stroke-width="1"/>
<line x1="594.6" y1="716.5" x2="594.6" y2="945.5" stroke="#e6e6e6" stroke-width="1"/>
<line x1="968.0" y1="716.5" x2="968.0" y2="945.5" stroke="#e6e6e6" stroke-width="1"/>
<rect x="34.40" y="753.50" width="10.8" height="192.00" fill="#a6d97e"/>
<rect x="50.01" y="872.80" width="10.8" height="72.70" fill="#d97c7c"/>
<rect x="65.62" y="884.90" width="10.8" height="60.60" fill="#a6d97e"/>
<rect x="81.22" y="834.00" width="10.8" height="111.50" fill="#d97c7c"/>
<rect x="96.83" y="859.00" width="10.8" height="86.50" fill="#a6d97e"/>
<rect x="112.44" y="880.00" width="10.8" height="65.50" fill="#d97c7c"/>
<rect x="128.05" y="875.00" width="10.8" height="70.50" fill="#a6d97e"/>
<rect x="143.66" y="897.50" width="10.8" height="48.00" fill="#a6d97e"/>
<rect x="159.26" y="877.00" width="10.8" height="68.50" fill="#a6d97e"/>
<rect x="174.87" y="884.60" width="10.8" height="60.90" fill="#a6d97e"/>
<rect x="190.48" y="866.00" width="10.8" height="79.50" fill="#a6d97e"/>
<rect x="206.09" y="887.00" width="10.8" height="58.50" fill="#a6d97e"/>
<rect x="221.70" y="887.30" width="10.8" height="58.20" fill="#a6d97e"/>
<rect x="237.30" y="892.00" width="10.8" height="53.50" fill="#d97c7c"/>
<rect x="252.91" y="897.00" width="10.8" height="48.50" fill="#a6d97e"/>
<rect x="268.52" y="854.60" width="10.8" height="90.90" fill="#a6d97e"/>
<rect x="284.13" y="875.70" width="10.8" height="69.80" fill="#a6d97e"/>
<rect x="299.74" y="889.70" width="10.8" height="55.80" fill="#d97c7c"/>
<rect x="315.34" y="891.00" width="10.8" height="54.50" fill="#a6d97e"/>
<rect x="330.95" y="882.00" width="10.8" height="63.50" fill="#a6d97e"/>
<rect x="346.56" y="906.00" width="10.8" height="39.50" fill="#d97c7c"/>
<rect x="362.17" y="883.00" width="10.8" height="62.50" fill="#a6d97e"/>
<rect x="377.78" y="869.40" width="10.8" height="76.10" fill="#a6d97e"/>
<rect x="393.38" y="902.00" width="10.8" height="43.50" fill="#a6d97e"/>
<rect x="408.99" y="833.60" width="10.8" height="111.90" fill="#a6d97e"/>
<rect x="424.60" y="873.80" width="10.8" height="71.70" fill="#d97c7c"/>
<rect x="440.21" y="840.00" width="10.8" height="105.50" fill="#d97c7c"/>
<rect x="455.82" y="849.80" width="10.8" height="95.70" fill="#a6d97e"/>
<rect x="471.42" y="867.00" width="10.8" height="78.50" fill="#a6d97e"/>
<rect x="487.03" y="881.00" width="10.8" height="64.50" fill="#d97c7c"/>
<rect x="502.64" y="882.00" width="10.8" height="63.50" fill="#a6d97e"/>
<rect x="518.25" y="892.00" width="10.8" height="53.50" fill="#a6d97e"/>
<rect x="533.86" y="895.80" width="10.8" height="49.70" fill="#a6d97e"/>
<rect x="549.46" y="828.00" width="10.8" height="117.50" fill="#d97c7c"/>
<rect x="565.07" y="868.00" width="10.8" height="77.50" fill="#a6d97e"/>
<rect x="580.68" y="869.00" width="10.8" height="76.50" fill="#d97c7c"/>
<rect x="596.29" y="817.90" width="10.8" height="127.60" fill="#a6d97e"/>
<rect x="611.90" y="878.80" width="10.8" height="66.70" fill="#a6d97e"/>
<rect x="627.50" y="887.00" width="10.8" height="58.50" fill="#a6d97e"/>
<rect x="643.11" y="890.00" width="10.8" height="55.50" fill="#a6d97e"/>
<rect x="658.72" y="884.00" width="10.8" height="61.50" fill="#d97c7c"/>
<rect x="674.33" y="876.40" width="10.8" height="69.10" fill="#a6d97e"/>
<rect x="689.94" y="856.80" width="10.8" height="88.70" fill="#a6d97e"/>
<rect x="705.54" y="890.00" width="10.8" height="55.50" fill="#a6d97e"/>
<rect x="721.15" y="906.00" width="10.8" height="39.50" fill="#a6d97e"/>
<rect x="736.76" y="889.00" width="10.8" height="56.50" fill="#a6d97e"/>
<rect x="752.37" y="917.80" width="10.8" height="27.70" fill="#a6d97e"/>
<rect x="767.98" y="903.00" width="10.8" height="42.50" fill="#a6d97e"/>
<rect x="783.58" y="862.40" width="10.8" height="83.10" fill="#a6d97e"/>
<rect x="799.19" y="722.80" width="10.8" height="222.70" fill="#d97c7c"/>
<rect x="814.80" y="766.30" width="10.8" height="179.20" fill="#d97c7c"/>
<rect x="830.41" y="821.70" width="10.8" height="123.80" fill="#a6d97e"/>
<rect x="846.02" y="848.60" width="10.8" height="96.90" fill="#a6d97e"/>
<rect x="861.62" y="866.70" width="10.8" height="78.80" fill="#a6d97e"/>
<rect x="877.23" y="828.00" width="10.8" height="117.50" fill="#a6d97e"/>
<rect x="892.84" y="879.50" width="10.8" height="66.00" fill="#a6d97e"/>
<rect x="908.45" y="867.80" width="10.8" height="77.70" fill="#d97c7c"/>
<rect x="924.06" y="860.70" width="10.8" height="84.80" fill="#d97c7c"/>
<rect x="939.66" y="869.60" width="10.8" height="75.90" fill="#a6d97e"/>
<rect x="955.27" y="897.20" width="10.8" height="48.30" fill="#a6d97e"/>
<rect x="970.88" y="848.00" width="10.8" height="97.50" fill="#a6d97e"/>
<rect x="986.49" y="858.90" width="10.8" height="86.60" fill="#a6d97e"/>
<rect x="1002.10" y="845.20" width="10.8" height="100.30" fill="#a6d97e"/>
<rect x="1017.70" y="874.40" width="10.8" height="71.10" fill="#a6d97e"/>
<rect x="1033.31" y="903.60" width="10.8" height="41.90" fill="#d97c7c"/>
<rect x="1048.92" y="895.70" width="10.8" height="49.80" fill="#a6d97e"/>
<rect x="1064.53" y="897.20" width="10.8" height="48.30" fill="#a6d97e"/>
<rect x="1080.14" y="884.80" width="10.8" height="60.70" fill="#a6d97e"/>
<rect x="1095.74" y="870.80" width="10.8" height="74.70" fill="#d97c7c"/>
<rect x="1111.35" y="865.70" width="10.8" height="79.80" fill="#a6d97e"/>
<rect x="1126.96" y="847.00" width="10.8" height="98.50" fill="#d97c7c"/>
<rect x="1142.57" y="903.80" width="10.8" height="41.70" fill="#a6d97e"/>
<rect x="1158.18" y="838.80" width="10.8" height="106.70" fill="#d97c7c"/>
<rect x="1173.78" y="866.00" width="10.8" height="79.50" fill="#d97c7c"/>
<rect x="1189.39" y="868.80" width="10.8" height="76.70" fill="#a6d97e"/>
<rect x="1205.00" y="799.80" width="10.8" height="145.70" fill="#d97c7c"/>
<g style="will-change:transform"><text transform="translate(1224.41 723.80) scale(1.0959 1.0154)" font-size="18.5" fill="#222">100M</text>
<text transform="translate(1224.78 838.40) scale(1.1000 1.0154)" font-size="18.5" fill="#222">50M</text>
<text transform="translate(1224.97 953.64) scale(1.0114 1.0216)" font-size="18.5" fill="#222">0</text></g>
<circle cx="1140.2" cy="745.2" r="17.5" fill="rgba(255,255,255,0.6)" stroke="#9a9a9a" stroke-width="1"/><g fill="none" stroke="#9a9a9a" stroke-width="1"><path d="M1140.2 736.2 L1140.2 754.2"/><path d="M1132.2 744.2 L1140.2 736.2 L1148.2 744.2"/></g>
<circle cx="1185.4" cy="745.2" r="17.5" fill="rgba(255,255,255,0.6)" stroke="#9a9a9a" stroke-width="1"/><g fill="none" stroke="#8a8a8a" stroke-width="1"><path d="M1176.0 741.4 V736.1 H1194.8 V741.4"/><path d="M1176.0 749.0 V754.3 H1194.8 V749.0"/></g>
<defs><filter id="sh" x="-20%" y="-40%" width="140%" height="180%"><feDropShadow dx="0" dy="1" stdDeviation="2" flood-color="#000" flood-opacity="0.36"/></filter></defs>
<rect x="43.8" y="185.1" width="155.8" height="47" rx="6" fill="#fff" filter="url(#sh)"/>
<rect x="50.9" y="194.4" width="28.4" height="28.4" rx="4.5" fill="#b30000"/>
<g style="will-change:transform"><text transform="translate(85.97 216.00) scale(1.0411 0.9923)" font-size="18" fill="#222">AMCH</text></g>
<g fill="none" stroke="#5a5a5a" stroke-width="1.00" stroke-linejoin="round"><path d="M177.55 220.39 L176.69 223.37 L171.51 223.37 L170.65 220.39 L169.36 219.92 L166.78 221.65 L162.82 218.32 L164.07 215.49 L163.38 214.29 L160.30 213.96 L159.40 208.87 L162.18 207.50 L162.42 206.14 L160.27 203.90 L162.86 199.42 L165.87 200.17 L166.93 199.28 L166.72 196.19 L171.58 194.42 L173.41 196.92 L174.79 196.92 L176.62 194.42 L181.48 196.19 L181.27 199.28 L182.33 200.17 L185.34 199.42 L187.93 203.90 L185.78 206.14 L186.02 207.50 L188.80 208.87 L187.90 213.96 L184.82 214.29 L184.13 215.49 L185.38 218.32 L181.42 221.65 L178.84 219.92 Z"/><circle cx="174.10" cy="208.90" r="6.20"/></g>
<rect x="44" y="728" width="164.5" height="47" rx="6" fill="#fff" filter="url(#sh)"/>
<rect x="51.5" y="738.5" width="27.3" height="26.3" rx="4.5" fill="#d97c7c"/>
<g style="will-change:transform"><text transform="translate(85.74 758.90) scale(1.0792 1.0600)" font-size="18" fill="#222">Volume</text></g>
<g fill="none" stroke="#5a5a5a" stroke-width="1.00" stroke-linejoin="round"><path d="M186.45 762.99 L185.59 765.97 L180.41 765.97 L179.55 762.99 L178.26 762.52 L175.68 764.25 L171.72 760.92 L172.97 758.09 L172.28 756.89 L169.20 756.56 L168.30 751.47 L171.08 750.10 L171.32 748.74 L169.17 746.50 L171.76 742.02 L174.77 742.77 L175.83 741.88 L175.62 738.79 L180.48 737.02 L182.31 739.52 L183.69 739.52 L185.52 737.02 L190.38 738.79 L190.17 741.88 L191.23 742.77 L194.24 742.02 L196.83 746.50 L194.68 748.74 L194.92 750.10 L197.70 751.47 L196.80 756.56 L193.72 756.89 L193.03 758.09 L194.28 760.92 L190.32 764.25 L187.74 762.52 Z"/><circle cx="183.00" cy="751.50" r="6.20"/></g>
</svg></body></html>
